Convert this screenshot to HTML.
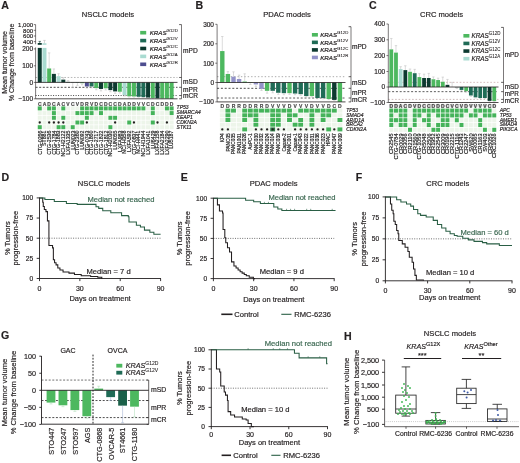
<!DOCTYPE html>
<html><head><meta charset="utf-8"><title>Figure</title>
<style>
html,body{margin:0;padding:0;background:#fff;}
body{width:520px;height:463px;overflow:hidden;}
svg{display:block;font-family:"Liberation Sans", Arial, sans-serif;filter:blur(0.3px);}
text{stroke-width:0.18px;}
</style></head><body>
<svg width="520" height="463" viewBox="0 0 520 463" fill="#231f20">
<rect x="0" y="0" width="520" height="463" fill="#fff"/>
<line x1="35.6" y1="77.48" x2="177.5" y2="77.48" stroke="#8a8a8a" stroke-width="0.6" stroke-dasharray="1.6,1.6"/>
<line x1="35.6" y1="87.32" x2="177.5" y2="87.32" stroke="#222" stroke-width="0.8" stroke-dasharray="2,1.6"/>
<line x1="35.6" y1="95.52" x2="177.5" y2="95.52" stroke="#333" stroke-width="0.9" stroke-dasharray="1,1.5"/>
<rect x="37.75" y="47.9" width="4" height="34.5" fill="#0d3a30"/>
<rect x="37.75" y="43" width="4" height="1.8" fill="#0d3a30"/>
<line x1="39.75" y1="43" x2="39.75" y2="41.4" stroke="#0d3a30" stroke-width="0.6"/>
<line x1="38.55" y1="41.4" x2="40.95" y2="41.4" stroke="#0d3a30" stroke-width="0.6"/>
<rect x="42.46" y="47.9" width="4" height="34.5" fill="#a9dbd1"/>
<rect x="42.46" y="43.3" width="4" height="1.5" fill="#a9dbd1"/>
<line x1="44.46" y1="43.3" x2="44.46" y2="40.4" stroke="#b8b8b8" stroke-width="0.6"/>
<line x1="43.26" y1="40.4" x2="45.66" y2="40.4" stroke="#b8b8b8" stroke-width="0.6"/>
<rect x="47.17" y="68.46" width="4" height="13.94" fill="#4db85f"/>
<line x1="49.17" y1="68.46" x2="49.17" y2="52.88" stroke="#b8b8b8" stroke-width="0.5"/>
<line x1="47.97" y1="52.88" x2="50.37" y2="52.88" stroke="#b8b8b8" stroke-width="0.5"/>
<rect x="51.88" y="73.87" width="4" height="8.53" fill="#0d3a30"/>
<line x1="53.88" y1="73.87" x2="53.88" y2="68.95" stroke="#b8b8b8" stroke-width="0.5"/>
<line x1="52.68" y1="68.95" x2="55.08" y2="68.95" stroke="#b8b8b8" stroke-width="0.5"/>
<rect x="56.59" y="76.17" width="4" height="6.23" fill="#a9dbd1"/>
<line x1="58.59" y1="76.17" x2="58.59" y2="73.71" stroke="#b8b8b8" stroke-width="0.5"/>
<line x1="57.39" y1="73.71" x2="59.79" y2="73.71" stroke="#b8b8b8" stroke-width="0.5"/>
<rect x="61.3" y="79.61" width="4" height="2.79" fill="#0d3a30"/>
<line x1="63.3" y1="79.61" x2="63.3" y2="77.64" stroke="#b8b8b8" stroke-width="0.5"/>
<line x1="62.1" y1="77.64" x2="64.5" y2="77.64" stroke="#b8b8b8" stroke-width="0.5"/>
<rect x="66.01" y="81.91" width="4" height="0.49" fill="#1f6b56"/>
<line x1="68.01" y1="81.91" x2="68.01" y2="80.6" stroke="#b8b8b8" stroke-width="0.5"/>
<line x1="66.81" y1="80.6" x2="69.21" y2="80.6" stroke="#b8b8b8" stroke-width="0.5"/>
<rect x="70.72" y="82.4" width="4" height="0.33" fill="#0d3a30"/>
<line x1="72.72" y1="82.73" x2="72.72" y2="87.65" stroke="#b8b8b8" stroke-width="0.5"/>
<line x1="71.52" y1="87.65" x2="73.92" y2="87.65" stroke="#b8b8b8" stroke-width="0.5"/>
<rect x="75.43" y="82.4" width="4" height="0.49" fill="#1f6b56"/>
<line x1="77.43" y1="82.89" x2="77.43" y2="85.35" stroke="#b8b8b8" stroke-width="0.5"/>
<line x1="76.23" y1="85.35" x2="78.63" y2="85.35" stroke="#b8b8b8" stroke-width="0.5"/>
<rect x="80.14" y="82.4" width="4" height="0.82" fill="#4db85f"/>
<line x1="82.14" y1="83.22" x2="82.14" y2="84.86" stroke="#b8b8b8" stroke-width="0.5"/>
<line x1="80.94" y1="84.86" x2="83.34" y2="84.86" stroke="#b8b8b8" stroke-width="0.5"/>
<rect x="84.85" y="82.4" width="4" height="4.1" fill="#4d4d8f"/>
<line x1="86.85" y1="86.5" x2="86.85" y2="88.14" stroke="#b8b8b8" stroke-width="0.5"/>
<line x1="85.65" y1="88.14" x2="88.05" y2="88.14" stroke="#b8b8b8" stroke-width="0.5"/>
<rect x="89.56" y="82.4" width="4" height="4.1" fill="#1f6b56"/>
<line x1="91.56" y1="86.5" x2="91.56" y2="87.81" stroke="#b8b8b8" stroke-width="0.5"/>
<line x1="90.36" y1="87.81" x2="92.76" y2="87.81" stroke="#b8b8b8" stroke-width="0.5"/>
<rect x="94.27" y="82.4" width="4" height="5.74" fill="#4db85f"/>
<line x1="96.27" y1="88.14" x2="96.27" y2="89.78" stroke="#b8b8b8" stroke-width="0.5"/>
<line x1="95.07" y1="89.78" x2="97.47" y2="89.78" stroke="#b8b8b8" stroke-width="0.5"/>
<rect x="98.98" y="82.4" width="4" height="6.56" fill="#0d3a30"/>
<line x1="100.98" y1="88.96" x2="100.98" y2="90.93" stroke="#b8b8b8" stroke-width="0.5"/>
<line x1="99.78" y1="90.93" x2="102.18" y2="90.93" stroke="#b8b8b8" stroke-width="0.5"/>
<rect x="103.69" y="82.4" width="4" height="5.9" fill="#4db85f"/>
<line x1="105.69" y1="88.3" x2="105.69" y2="89.94" stroke="#b8b8b8" stroke-width="0.5"/>
<line x1="104.49" y1="89.94" x2="106.89" y2="89.94" stroke="#b8b8b8" stroke-width="0.5"/>
<rect x="108.4" y="82.4" width="4" height="7.71" fill="#0d3a30"/>
<line x1="110.4" y1="90.11" x2="110.4" y2="91.75" stroke="#b8b8b8" stroke-width="0.5"/>
<line x1="109.2" y1="91.75" x2="111.6" y2="91.75" stroke="#b8b8b8" stroke-width="0.5"/>
<rect x="113.11" y="82.4" width="4" height="9.02" fill="#0d3a30"/>
<line x1="115.11" y1="91.42" x2="115.11" y2="93.39" stroke="#b8b8b8" stroke-width="0.5"/>
<line x1="113.91" y1="93.39" x2="116.31" y2="93.39" stroke="#b8b8b8" stroke-width="0.5"/>
<rect x="117.82" y="82.4" width="4" height="9.35" fill="#4db85f"/>
<line x1="119.82" y1="91.75" x2="119.82" y2="93.06" stroke="#b8b8b8" stroke-width="0.5"/>
<line x1="118.62" y1="93.06" x2="121.02" y2="93.06" stroke="#b8b8b8" stroke-width="0.5"/>
<rect x="122.53" y="82.4" width="4" height="12.79" fill="#a9dbd1"/>
<line x1="124.53" y1="95.19" x2="124.53" y2="96.01" stroke="#b8b8b8" stroke-width="0.5"/>
<line x1="123.33" y1="96.01" x2="125.73" y2="96.01" stroke="#b8b8b8" stroke-width="0.5"/>
<rect x="127.24" y="82.4" width="4" height="13.94" fill="#4db85f"/>
<line x1="129.24" y1="96.34" x2="129.24" y2="97" stroke="#b8b8b8" stroke-width="0.5"/>
<line x1="128.04" y1="97" x2="130.44" y2="97" stroke="#b8b8b8" stroke-width="0.5"/>
<rect x="131.95" y="82.4" width="4" height="14.1" fill="#4db85f"/>
<line x1="133.95" y1="96.5" x2="133.95" y2="97.16" stroke="#b8b8b8" stroke-width="0.5"/>
<line x1="132.75" y1="97.16" x2="135.15" y2="97.16" stroke="#b8b8b8" stroke-width="0.5"/>
<rect x="136.66" y="82.4" width="4" height="14.43" fill="#1f6b56"/>
<line x1="138.66" y1="96.83" x2="138.66" y2="97.32" stroke="#b8b8b8" stroke-width="0.5"/>
<line x1="137.46" y1="97.32" x2="139.86" y2="97.32" stroke="#b8b8b8" stroke-width="0.5"/>
<rect x="141.37" y="82.4" width="4" height="14.76" fill="#1f6b56"/>
<line x1="143.37" y1="97.16" x2="143.37" y2="97.65" stroke="#b8b8b8" stroke-width="0.5"/>
<line x1="142.17" y1="97.65" x2="144.57" y2="97.65" stroke="#b8b8b8" stroke-width="0.5"/>
<rect x="146.08" y="82.4" width="4" height="15.25" fill="#0d3a30"/>
<line x1="148.08" y1="97.65" x2="148.08" y2="97.98" stroke="#b8b8b8" stroke-width="0.5"/>
<line x1="146.88" y1="97.98" x2="149.28" y2="97.98" stroke="#b8b8b8" stroke-width="0.5"/>
<rect x="150.79" y="82.4" width="4" height="15.58" fill="#4db85f"/>
<line x1="152.79" y1="97.98" x2="152.79" y2="98.31" stroke="#b8b8b8" stroke-width="0.5"/>
<line x1="151.59" y1="98.31" x2="153.99" y2="98.31" stroke="#b8b8b8" stroke-width="0.5"/>
<rect x="155.5" y="82.4" width="4" height="15.91" fill="#0d3a30"/>
<line x1="157.5" y1="98.31" x2="157.5" y2="98.64" stroke="#b8b8b8" stroke-width="0.5"/>
<line x1="156.3" y1="98.64" x2="158.7" y2="98.64" stroke="#b8b8b8" stroke-width="0.5"/>
<rect x="160.21" y="82.4" width="4" height="16.07" fill="#4db85f"/>
<line x1="162.21" y1="98.47" x2="162.21" y2="98.64" stroke="#b8b8b8" stroke-width="0.5"/>
<line x1="161.01" y1="98.64" x2="163.41" y2="98.64" stroke="#b8b8b8" stroke-width="0.5"/>
<rect x="164.92" y="82.4" width="4" height="16.24" fill="#4db85f"/>
<rect x="169.63" y="82.4" width="4" height="16.4" fill="#4db85f"/>
<line x1="35.6" y1="82.4" x2="177.5" y2="82.4" stroke="#231f20" stroke-width="0.8"/>
<line x1="35.6" y1="98.8" x2="177.5" y2="98.8" stroke="#231f20" stroke-width="0.8"/>
<line x1="35.6" y1="24.6" x2="35.6" y2="44.2" stroke="#231f20" stroke-width="0.6"/>
<line x1="35.6" y1="47.4" x2="35.6" y2="98.8" stroke="#231f20" stroke-width="0.6"/>
<line x1="33.8" y1="24.6" x2="35.6" y2="24.6" stroke="#231f20" stroke-width="0.6"/>
<text x="33.1" y="26.88" font-size="6" text-anchor="end" stroke="#231f20">1,000</text>
<line x1="33.8" y1="30.3" x2="35.6" y2="30.3" stroke="#231f20" stroke-width="0.6"/>
<text x="33.1" y="32.58" font-size="6" text-anchor="end" stroke="#231f20">800</text>
<line x1="33.8" y1="36" x2="35.6" y2="36" stroke="#231f20" stroke-width="0.6"/>
<text x="33.1" y="38.28" font-size="6" text-anchor="end" stroke="#231f20">600</text>
<line x1="33.8" y1="41.6" x2="35.6" y2="41.6" stroke="#231f20" stroke-width="0.6"/>
<text x="33.1" y="43.88" font-size="6" text-anchor="end" stroke="#231f20">400</text>
<line x1="33.8" y1="48.9" x2="35.6" y2="48.9" stroke="#231f20" stroke-width="0.6"/>
<text x="33.1" y="51.37" font-size="6.5" text-anchor="end" stroke="#231f20">200</text>
<line x1="33.8" y1="65.8" x2="35.6" y2="65.8" stroke="#231f20" stroke-width="0.6"/>
<text x="33.1" y="68.27" font-size="6.5" text-anchor="end" stroke="#231f20">100</text>
<line x1="33.8" y1="82.4" x2="35.6" y2="82.4" stroke="#231f20" stroke-width="0.6"/>
<text x="33.1" y="84.87" font-size="6.5" text-anchor="end" stroke="#231f20">0</text>
<line x1="33.8" y1="98.8" x2="35.6" y2="98.8" stroke="#231f20" stroke-width="0.6"/>
<text x="33.1" y="101.27" font-size="6.5" text-anchor="end" stroke="#231f20">−100</text>
<line x1="181.5" y1="24.6" x2="181.5" y2="98.8" stroke="#231f20" stroke-width="0.6"/>
<line x1="179.1" y1="24.6" x2="181.5" y2="24.6" stroke="#231f20" stroke-width="0.7"/>
<line x1="179.1" y1="77.48" x2="181.5" y2="77.48" stroke="#231f20" stroke-width="0.7"/>
<line x1="179.1" y1="87.32" x2="181.5" y2="87.32" stroke="#231f20" stroke-width="0.7"/>
<line x1="179.1" y1="95.52" x2="181.5" y2="95.52" stroke="#231f20" stroke-width="0.7"/>
<line x1="179.1" y1="98.8" x2="181.5" y2="98.8" stroke="#231f20" stroke-width="0.7"/>
<text x="183.1" y="52.8" font-size="6.6" stroke="#231f20">mPD</text>
<text x="183.1" y="83.9" font-size="6.6" stroke="#231f20">mSD</text>
<text x="183.1" y="91.9" font-size="6.6" stroke="#231f20">mPR</text>
<text x="183.1" y="98.1" font-size="6.6" stroke="#231f20">mCR</text>
<text x="39.75" y="105.6" font-size="5" text-anchor="middle" font-weight="bold" stroke="#4a4a4a" stroke-width="0.06" fill="#4a4a4a">C</text>
<text x="44.46" y="105.6" font-size="5" text-anchor="middle" font-weight="bold" stroke="#4a4a4a" stroke-width="0.06" fill="#4a4a4a">A</text>
<text x="49.17" y="105.6" font-size="5" text-anchor="middle" font-weight="bold" stroke="#4a4a4a" stroke-width="0.06" fill="#4a4a4a">D</text>
<text x="53.88" y="105.6" font-size="5" text-anchor="middle" font-weight="bold" stroke="#4a4a4a" stroke-width="0.06" fill="#4a4a4a">C</text>
<text x="58.59" y="105.6" font-size="5" text-anchor="middle" font-weight="bold" stroke="#4a4a4a" stroke-width="0.06" fill="#4a4a4a">A</text>
<text x="63.3" y="105.6" font-size="5" text-anchor="middle" font-weight="bold" stroke="#4a4a4a" stroke-width="0.06" fill="#4a4a4a">C</text>
<text x="68.01" y="105.6" font-size="5" text-anchor="middle" font-weight="bold" stroke="#4a4a4a" stroke-width="0.06" fill="#4a4a4a">V</text>
<text x="72.72" y="105.6" font-size="5" text-anchor="middle" font-weight="bold" stroke="#4a4a4a" stroke-width="0.06" fill="#4a4a4a">C</text>
<text x="77.43" y="105.6" font-size="5" text-anchor="middle" font-weight="bold" stroke="#4a4a4a" stroke-width="0.06" fill="#4a4a4a">V</text>
<text x="82.14" y="105.6" font-size="5" text-anchor="middle" font-weight="bold" stroke="#4a4a4a" stroke-width="0.06" fill="#4a4a4a">D</text>
<text x="86.85" y="105.6" font-size="5" text-anchor="middle" font-weight="bold" stroke="#4a4a4a" stroke-width="0.06" fill="#4a4a4a">R</text>
<text x="91.56" y="105.6" font-size="5" text-anchor="middle" font-weight="bold" stroke="#4a4a4a" stroke-width="0.06" fill="#4a4a4a">V</text>
<text x="96.27" y="105.6" font-size="5" text-anchor="middle" font-weight="bold" stroke="#4a4a4a" stroke-width="0.06" fill="#4a4a4a">D</text>
<text x="100.98" y="105.6" font-size="5" text-anchor="middle" font-weight="bold" stroke="#4a4a4a" stroke-width="0.06" fill="#4a4a4a">C</text>
<text x="105.69" y="105.6" font-size="5" text-anchor="middle" font-weight="bold" stroke="#4a4a4a" stroke-width="0.06" fill="#4a4a4a">D</text>
<text x="110.4" y="105.6" font-size="5" text-anchor="middle" font-weight="bold" stroke="#4a4a4a" stroke-width="0.06" fill="#4a4a4a">C</text>
<text x="115.11" y="105.6" font-size="5" text-anchor="middle" font-weight="bold" stroke="#4a4a4a" stroke-width="0.06" fill="#4a4a4a">C</text>
<text x="119.82" y="105.6" font-size="5" text-anchor="middle" font-weight="bold" stroke="#4a4a4a" stroke-width="0.06" fill="#4a4a4a">D</text>
<text x="124.53" y="105.6" font-size="5" text-anchor="middle" font-weight="bold" stroke="#4a4a4a" stroke-width="0.06" fill="#4a4a4a">A</text>
<text x="129.24" y="105.6" font-size="5" text-anchor="middle" font-weight="bold" stroke="#4a4a4a" stroke-width="0.06" fill="#4a4a4a">D</text>
<text x="133.95" y="105.6" font-size="5" text-anchor="middle" font-weight="bold" stroke="#4a4a4a" stroke-width="0.06" fill="#4a4a4a">D</text>
<text x="138.66" y="105.6" font-size="5" text-anchor="middle" font-weight="bold" stroke="#4a4a4a" stroke-width="0.06" fill="#4a4a4a">V</text>
<text x="143.37" y="105.6" font-size="5" text-anchor="middle" font-weight="bold" stroke="#4a4a4a" stroke-width="0.06" fill="#4a4a4a">V</text>
<text x="148.08" y="105.6" font-size="5" text-anchor="middle" font-weight="bold" stroke="#4a4a4a" stroke-width="0.06" fill="#4a4a4a">C</text>
<text x="152.79" y="105.6" font-size="5" text-anchor="middle" font-weight="bold" stroke="#4a4a4a" stroke-width="0.06" fill="#4a4a4a">D</text>
<text x="157.5" y="105.6" font-size="5" text-anchor="middle" font-weight="bold" stroke="#4a4a4a" stroke-width="0.06" fill="#4a4a4a">C</text>
<text x="162.21" y="105.6" font-size="5" text-anchor="middle" font-weight="bold" stroke="#4a4a4a" stroke-width="0.06" fill="#4a4a4a">D</text>
<text x="166.92" y="105.6" font-size="5" text-anchor="middle" font-weight="bold" stroke="#4a4a4a" stroke-width="0.06" fill="#4a4a4a">D</text>
<text x="171.63" y="105.6" font-size="5" text-anchor="middle" font-weight="bold" stroke="#4a4a4a" stroke-width="0.06" fill="#4a4a4a">D</text>
<rect x="37.75" y="106.4" width="4.01" height="4" fill="#45b35a"/>
<rect x="42.46" y="106.4" width="4.01" height="4" fill="#edf5ea"/>
<rect x="47.17" y="106.4" width="4.01" height="4" fill="#45b35a"/>
<rect x="51.88" y="106.4" width="4.01" height="4" fill="#45b35a"/>
<rect x="56.59" y="106.4" width="4.01" height="4" fill="#edf5ea"/>
<rect x="61.3" y="106.4" width="4.01" height="4" fill="#45b35a"/>
<rect x="66" y="106.4" width="4.01" height="4" fill="#edf5ea"/>
<rect x="70.71" y="106.4" width="4.01" height="4" fill="#edf5ea"/>
<rect x="75.42" y="106.4" width="4.01" height="4" fill="#edf5ea"/>
<rect x="80.13" y="106.4" width="4.01" height="4" fill="#45b35a"/>
<rect x="84.84" y="106.4" width="4.01" height="4" fill="#45b35a"/>
<rect x="89.55" y="106.4" width="4.01" height="4" fill="#45b35a"/>
<rect x="94.26" y="106.4" width="4.01" height="4" fill="#45b35a"/>
<rect x="98.97" y="106.4" width="4.01" height="4" fill="#45b35a"/>
<rect x="103.68" y="106.4" width="4.01" height="4" fill="#45b35a"/>
<rect x="108.39" y="106.4" width="4.01" height="4" fill="#45b35a"/>
<rect x="113.1" y="106.4" width="4.01" height="4" fill="#45b35a"/>
<rect x="117.81" y="106.4" width="4.01" height="4" fill="#45b35a"/>
<rect x="122.52" y="106.4" width="4.01" height="4" fill="#45b35a"/>
<rect x="127.23" y="106.4" width="4.01" height="4" fill="#45b35a"/>
<rect x="131.94" y="106.4" width="4.01" height="4" fill="#45b35a"/>
<rect x="136.66" y="106.4" width="4.01" height="4" fill="#45b35a"/>
<rect x="141.37" y="106.4" width="4.01" height="4" fill="#45b35a"/>
<rect x="146.07" y="106.4" width="4.01" height="4" fill="#edf5ea"/>
<rect x="150.78" y="106.4" width="4.01" height="4" fill="#45b35a"/>
<rect x="155.5" y="106.4" width="4.01" height="4" fill="#edf5ea"/>
<rect x="160.2" y="106.4" width="4.01" height="4" fill="#edf5ea"/>
<rect x="164.92" y="106.4" width="4.01" height="4" fill="#45b35a"/>
<rect x="169.62" y="106.4" width="4.01" height="4" fill="#45b35a"/>
<text x="176.6" y="109.1" font-size="5" stroke="#231f20" stroke-width="0.06" font-style="italic">TP53</text>
<rect x="37.75" y="111.1" width="4.01" height="4" fill="#edf5ea"/>
<rect x="42.46" y="111.1" width="4.01" height="4" fill="#edf5ea"/>
<rect x="47.17" y="111.1" width="4.01" height="4" fill="#edf5ea"/>
<rect x="51.88" y="111.1" width="4.01" height="4" fill="#45b35a"/>
<rect x="56.59" y="111.1" width="4.01" height="4" fill="#edf5ea"/>
<rect x="61.3" y="111.1" width="4.01" height="4" fill="#edf5ea"/>
<rect x="66" y="111.1" width="4.01" height="4" fill="#edf5ea"/>
<rect x="70.71" y="111.1" width="4.01" height="4" fill="#edf5ea"/>
<rect x="75.42" y="111.1" width="4.01" height="4" fill="#45b35a"/>
<rect x="80.13" y="111.1" width="4.01" height="4" fill="#45b35a"/>
<rect x="84.84" y="111.1" width="4.01" height="4" fill="#45b35a"/>
<rect x="89.55" y="111.1" width="4.01" height="4" fill="#45b35a"/>
<rect x="94.26" y="111.1" width="4.01" height="4" fill="#edf5ea"/>
<rect x="98.97" y="111.1" width="4.01" height="4" fill="#45b35a"/>
<rect x="103.68" y="111.1" width="4.01" height="4" fill="#edf5ea"/>
<rect x="108.39" y="111.1" width="4.01" height="4" fill="#edf5ea"/>
<rect x="113.1" y="111.1" width="4.01" height="4" fill="#edf5ea"/>
<rect x="117.81" y="111.1" width="4.01" height="4" fill="#edf5ea"/>
<rect x="122.52" y="111.1" width="4.01" height="4" fill="#edf5ea"/>
<rect x="127.23" y="111.1" width="4.01" height="4" fill="#edf5ea"/>
<rect x="131.94" y="111.1" width="4.01" height="4" fill="#edf5ea"/>
<rect x="136.66" y="111.1" width="4.01" height="4" fill="#edf5ea"/>
<rect x="141.37" y="111.1" width="4.01" height="4" fill="#edf5ea"/>
<rect x="146.07" y="111.1" width="4.01" height="4" fill="#edf5ea"/>
<rect x="150.78" y="111.1" width="4.01" height="4" fill="#45b35a"/>
<rect x="155.5" y="111.1" width="4.01" height="4" fill="#edf5ea"/>
<rect x="160.2" y="111.1" width="4.01" height="4" fill="#edf5ea"/>
<rect x="164.92" y="111.1" width="4.01" height="4" fill="#edf5ea"/>
<rect x="169.62" y="111.1" width="4.01" height="4" fill="#45b35a"/>
<text x="176.6" y="114.1" font-size="5" stroke="#231f20" stroke-width="0.06" font-style="italic">SMARCA4</text>
<rect x="37.75" y="115.8" width="4.01" height="4" fill="#edf5ea"/>
<rect x="42.46" y="115.8" width="4.01" height="4" fill="#edf5ea"/>
<rect x="47.17" y="115.8" width="4.01" height="4" fill="#edf5ea"/>
<rect x="51.88" y="115.8" width="4.01" height="4" fill="#45b35a"/>
<rect x="56.59" y="115.8" width="4.01" height="4" fill="#edf5ea"/>
<rect x="61.3" y="115.8" width="4.01" height="4" fill="#45b35a"/>
<rect x="66" y="115.8" width="4.01" height="4" fill="#edf5ea"/>
<rect x="70.71" y="115.8" width="4.01" height="4" fill="#edf5ea"/>
<rect x="75.42" y="115.8" width="4.01" height="4" fill="#edf5ea"/>
<rect x="80.13" y="115.8" width="4.01" height="4" fill="#edf5ea"/>
<rect x="84.84" y="115.8" width="4.01" height="4" fill="#45b35a"/>
<rect x="89.55" y="115.8" width="4.01" height="4" fill="#edf5ea"/>
<rect x="94.26" y="115.8" width="4.01" height="4" fill="#edf5ea"/>
<rect x="98.97" y="115.8" width="4.01" height="4" fill="#edf5ea"/>
<rect x="103.68" y="115.8" width="4.01" height="4" fill="#edf5ea"/>
<rect x="108.39" y="115.8" width="4.01" height="4" fill="#45b35a"/>
<rect x="113.1" y="115.8" width="4.01" height="4" fill="#45b35a"/>
<rect x="117.81" y="115.8" width="4.01" height="4" fill="#edf5ea"/>
<rect x="122.52" y="115.8" width="4.01" height="4" fill="#edf5ea"/>
<rect x="127.23" y="115.8" width="4.01" height="4" fill="#edf5ea"/>
<rect x="131.94" y="115.8" width="4.01" height="4" fill="#edf5ea"/>
<rect x="136.66" y="115.8" width="4.01" height="4" fill="#edf5ea"/>
<rect x="141.37" y="115.8" width="4.01" height="4" fill="#edf5ea"/>
<rect x="146.07" y="115.8" width="4.01" height="4" fill="#edf5ea"/>
<rect x="150.78" y="115.8" width="4.01" height="4" fill="#edf5ea"/>
<rect x="155.5" y="115.8" width="4.01" height="4" fill="#edf5ea"/>
<rect x="160.2" y="115.8" width="4.01" height="4" fill="#edf5ea"/>
<rect x="164.92" y="115.8" width="4.01" height="4" fill="#edf5ea"/>
<rect x="169.62" y="115.8" width="4.01" height="4" fill="#edf5ea"/>
<text x="176.6" y="119.1" font-size="5" stroke="#231f20" stroke-width="0.06" font-style="italic">KEAP1</text>
<rect x="37.75" y="120.5" width="4.01" height="4" fill="#edf5ea"/>
<circle cx="39.75" cy="122.5" r="1.15" fill="#231f20"/>
<rect x="42.46" y="120.5" width="4.01" height="4" fill="#edf5ea"/>
<rect x="47.17" y="120.5" width="4.01" height="4" fill="#edf5ea"/>
<circle cx="49.17" cy="122.5" r="1.15" fill="#231f20"/>
<rect x="51.88" y="120.5" width="4.01" height="4" fill="#edf5ea"/>
<circle cx="53.88" cy="122.5" r="1.15" fill="#231f20"/>
<rect x="56.59" y="120.5" width="4.01" height="4" fill="#edf5ea"/>
<circle cx="58.59" cy="122.5" r="1.15" fill="#231f20"/>
<rect x="61.3" y="120.5" width="4.01" height="4" fill="#edf5ea"/>
<circle cx="63.3" cy="122.5" r="1.15" fill="#231f20"/>
<rect x="66" y="120.5" width="4.01" height="4" fill="#edf5ea"/>
<rect x="70.71" y="120.5" width="4.01" height="4" fill="#edf5ea"/>
<rect x="75.42" y="120.5" width="4.01" height="4" fill="#45b35a"/>
<rect x="80.13" y="120.5" width="4.01" height="4" fill="#45b35a"/>
<rect x="84.84" y="120.5" width="4.01" height="4" fill="#edf5ea"/>
<circle cx="86.85" cy="122.5" r="1.15" fill="#231f20"/>
<rect x="89.55" y="120.5" width="4.01" height="4" fill="#edf5ea"/>
<rect x="94.26" y="120.5" width="4.01" height="4" fill="#edf5ea"/>
<rect x="98.97" y="120.5" width="4.01" height="4" fill="#edf5ea"/>
<rect x="103.68" y="120.5" width="4.01" height="4" fill="#edf5ea"/>
<rect x="108.39" y="120.5" width="4.01" height="4" fill="#edf5ea"/>
<rect x="113.1" y="120.5" width="4.01" height="4" fill="#edf5ea"/>
<circle cx="115.11" cy="122.5" r="1.15" fill="#231f20"/>
<rect x="117.81" y="120.5" width="4.01" height="4" fill="#edf5ea"/>
<rect x="122.52" y="120.5" width="4.01" height="4" fill="#edf5ea"/>
<rect x="127.23" y="120.5" width="4.01" height="4" fill="#45b35a"/>
<rect x="131.94" y="120.5" width="4.01" height="4" fill="#edf5ea"/>
<circle cx="133.95" cy="122.5" r="1.15" fill="#231f20"/>
<rect x="136.66" y="120.5" width="4.01" height="4" fill="#edf5ea"/>
<rect x="141.37" y="120.5" width="4.01" height="4" fill="#edf5ea"/>
<rect x="146.07" y="120.5" width="4.01" height="4" fill="#edf5ea"/>
<rect x="150.78" y="120.5" width="4.01" height="4" fill="#45b35a"/>
<rect x="155.5" y="120.5" width="4.01" height="4" fill="#edf5ea"/>
<circle cx="157.5" cy="122.5" r="1.15" fill="#231f20"/>
<rect x="160.2" y="120.5" width="4.01" height="4" fill="#edf5ea"/>
<rect x="164.92" y="120.5" width="4.01" height="4" fill="#edf5ea"/>
<circle cx="166.92" cy="122.5" r="1.15" fill="#231f20"/>
<rect x="169.62" y="120.5" width="4.01" height="4" fill="#edf5ea"/>
<text x="176.6" y="124.1" font-size="5" stroke="#231f20" stroke-width="0.06" font-style="italic">CDKN2A</text>
<rect x="37.75" y="125.2" width="4.01" height="4" fill="#45b35a"/>
<rect x="42.46" y="125.2" width="4.01" height="4" fill="#edf5ea"/>
<rect x="47.17" y="125.2" width="4.01" height="4" fill="#edf5ea"/>
<rect x="51.88" y="125.2" width="4.01" height="4" fill="#edf5ea"/>
<rect x="56.59" y="125.2" width="4.01" height="4" fill="#45b35a"/>
<rect x="61.3" y="125.2" width="4.01" height="4" fill="#45b35a"/>
<rect x="66" y="125.2" width="4.01" height="4" fill="#edf5ea"/>
<rect x="70.71" y="125.2" width="4.01" height="4" fill="#45b35a"/>
<rect x="75.42" y="125.2" width="4.01" height="4" fill="#edf5ea"/>
<rect x="80.13" y="125.2" width="4.01" height="4" fill="#edf5ea"/>
<rect x="84.84" y="125.2" width="4.01" height="4" fill="#edf5ea"/>
<rect x="89.55" y="125.2" width="4.01" height="4" fill="#edf5ea"/>
<rect x="94.26" y="125.2" width="4.01" height="4" fill="#edf5ea"/>
<rect x="98.97" y="125.2" width="4.01" height="4" fill="#edf5ea"/>
<rect x="103.68" y="125.2" width="4.01" height="4" fill="#edf5ea"/>
<rect x="108.39" y="125.2" width="4.01" height="4" fill="#45b35a"/>
<rect x="113.1" y="125.2" width="4.01" height="4" fill="#edf5ea"/>
<rect x="117.81" y="125.2" width="4.01" height="4" fill="#edf5ea"/>
<rect x="122.52" y="125.2" width="4.01" height="4" fill="#edf5ea"/>
<rect x="127.23" y="125.2" width="4.01" height="4" fill="#edf5ea"/>
<rect x="131.94" y="125.2" width="4.01" height="4" fill="#edf5ea"/>
<rect x="136.66" y="125.2" width="4.01" height="4" fill="#edf5ea"/>
<rect x="141.37" y="125.2" width="4.01" height="4" fill="#edf5ea"/>
<rect x="146.07" y="125.2" width="4.01" height="4" fill="#edf5ea"/>
<rect x="150.78" y="125.2" width="4.01" height="4" fill="#edf5ea"/>
<rect x="155.5" y="125.2" width="4.01" height="4" fill="#edf5ea"/>
<rect x="160.2" y="125.2" width="4.01" height="4" fill="#edf5ea"/>
<rect x="164.92" y="125.2" width="4.01" height="4" fill="#edf5ea"/>
<rect x="169.62" y="125.2" width="4.01" height="4" fill="#edf5ea"/>
<text x="176.6" y="129.1" font-size="5" stroke="#231f20" stroke-width="0.06" font-style="italic">STK11</text>
<text x="41.57" y="130.6" font-size="5.2" text-anchor="end" stroke="#222" stroke-width="0.06" fill="#222" transform="rotate(-90 41.57 130.6)">CTG-0266</text>
<text x="46.28" y="130.6" font-size="5.2" text-anchor="end" stroke="#222" stroke-width="0.06" fill="#222" transform="rotate(-90 46.28 130.6)">ST881</text>
<text x="50.99" y="130.6" font-size="5.2" text-anchor="end" stroke="#222" stroke-width="0.06" fill="#222" transform="rotate(-90 50.99 130.6)">CTG-2536</text>
<text x="55.7" y="130.6" font-size="5.2" text-anchor="end" stroke="#222" stroke-width="0.06" fill="#222" transform="rotate(-90 55.7 130.6)">CTG-1784</text>
<text x="60.41" y="130.6" font-size="5.2" text-anchor="end" stroke="#222" stroke-width="0.06" fill="#222" transform="rotate(-90 60.41 130.6)">CTG-1883</text>
<text x="65.12" y="130.6" font-size="5.2" text-anchor="end" stroke="#222" stroke-width="0.06" fill="#222" transform="rotate(-90 65.12 130.6)">NCI-H2122</text>
<text x="69.83" y="130.6" font-size="5.2" text-anchor="end" stroke="#222" stroke-width="0.06" fill="#222" transform="rotate(-90 69.83 130.6)">LXFA1335</text>
<text x="74.54" y="130.6" font-size="5.2" text-anchor="end" stroke="#222" stroke-width="0.06" fill="#222" transform="rotate(-90 74.54 130.6)">LUN023</text>
<text x="79.25" y="130.6" font-size="5.2" text-anchor="end" stroke="#222" stroke-width="0.06" fill="#222" transform="rotate(-90 79.25 130.6)">CTG-2360</text>
<text x="83.96" y="130.6" font-size="5.2" text-anchor="end" stroke="#222" stroke-width="0.06" fill="#222" transform="rotate(-90 83.96 130.6)">LUN092</text>
<text x="88.67" y="130.6" font-size="5.2" text-anchor="end" stroke="#222" stroke-width="0.06" fill="#222" transform="rotate(-90 88.67 130.6)">CTG-0743</text>
<text x="93.38" y="130.6" font-size="5.2" text-anchor="end" stroke="#222" stroke-width="0.06" fill="#222" transform="rotate(-90 93.38 130.6)">CTG-1860</text>
<text x="98.09" y="130.6" font-size="5.2" text-anchor="end" stroke="#222" stroke-width="0.06" fill="#222" transform="rotate(-90 98.09 130.6)">CTG-2717</text>
<text x="102.8" y="130.6" font-size="5.2" text-anchor="end" stroke="#222" stroke-width="0.06" fill="#222" transform="rotate(-90 102.8 130.6)">CTG-1822</text>
<text x="107.51" y="130.6" font-size="5.2" text-anchor="end" stroke="#222" stroke-width="0.06" fill="#222" transform="rotate(-90 107.51 130.6)">CTG-1812</text>
<text x="112.22" y="130.6" font-size="5.2" text-anchor="end" stroke="#222" stroke-width="0.06" fill="#222" transform="rotate(-90 112.22 130.6)">NCI-H2030</text>
<text x="116.93" y="130.6" font-size="5.2" text-anchor="end" stroke="#222" stroke-width="0.06" fill="#222" transform="rotate(-90 116.93 130.6)">LUN055</text>
<text x="121.64" y="130.6" font-size="5.2" text-anchor="end" stroke="#222" stroke-width="0.06" fill="#222" transform="rotate(-90 121.64 130.6)">LXFA983</text>
<text x="126.35" y="130.6" font-size="5.2" text-anchor="end" stroke="#222" stroke-width="0.06" fill="#222" transform="rotate(-90 126.35 130.6)">NCI-H358</text>
<text x="131.06" y="130.6" font-size="5.2" text-anchor="end" stroke="#222" stroke-width="0.06" fill="#222" transform="rotate(-90 131.06 130.6)">LXFA592</text>
<text x="135.77" y="130.6" font-size="5.2" text-anchor="end" stroke="#222" stroke-width="0.06" fill="#222" transform="rotate(-90 135.77 130.6)">CTG-0837</text>
<text x="140.48" y="130.6" font-size="5.2" text-anchor="end" stroke="#222" stroke-width="0.06" fill="#222" transform="rotate(-90 140.48 130.6)">NCI-H441</text>
<text x="145.19" y="130.6" font-size="5.2" text-anchor="end" stroke="#222" stroke-width="0.06" fill="#222" transform="rotate(-90 145.19 130.6)">NCI-H1944</text>
<text x="149.9" y="130.6" font-size="5.2" text-anchor="end" stroke="#222" stroke-width="0.06" fill="#222" transform="rotate(-90 149.9 130.6)">LXFA1041</text>
<text x="154.61" y="130.6" font-size="5.2" text-anchor="end" stroke="#222" stroke-width="0.06" fill="#222" transform="rotate(-90 154.61 130.6)">LU6429</text>
<text x="159.32" y="130.6" font-size="5.2" text-anchor="end" stroke="#222" stroke-width="0.06" fill="#222" transform="rotate(-90 159.32 130.6)">LXFA2158</text>
<text x="164.03" y="130.6" font-size="5.2" text-anchor="end" stroke="#222" stroke-width="0.06" fill="#222" transform="rotate(-90 164.03 130.6)">LXFA2184</text>
<text x="168.74" y="130.6" font-size="5.2" text-anchor="end" stroke="#222" stroke-width="0.06" fill="#222" transform="rotate(-90 168.74 130.6)">LXFA2290</text>
<text x="173.45" y="130.6" font-size="5.2" text-anchor="end" stroke="#222" stroke-width="0.06" fill="#222" transform="rotate(-90 173.45 130.6)">LU5187</text>
<line x1="217.1" y1="76.68" x2="345.5" y2="76.68" stroke="#8a8a8a" stroke-width="0.7" stroke-dasharray="1.4,2"/>
<line x1="217.1" y1="88.32" x2="345.5" y2="88.32" stroke="#222" stroke-width="0.8" stroke-dasharray="2,1.8"/>
<line x1="217.1" y1="98.02" x2="345.5" y2="98.02" stroke="#333" stroke-width="0.8" stroke-dasharray="2,1.8"/>
<rect x="220.1" y="51.07" width="4.4" height="31.43" fill="#4db85f"/>
<line x1="222.3" y1="51.07" x2="222.3" y2="36.52" stroke="#b8b8b8" stroke-width="0.5"/>
<line x1="221.1" y1="36.52" x2="223.5" y2="36.52" stroke="#b8b8b8" stroke-width="0.5"/>
<rect x="225.7" y="73.96" width="4.4" height="8.54" fill="#4db85f"/>
<line x1="227.9" y1="73.96" x2="227.9" y2="71.64" stroke="#b8b8b8" stroke-width="0.5"/>
<line x1="226.7" y1="71.64" x2="229.1" y2="71.64" stroke="#b8b8b8" stroke-width="0.5"/>
<rect x="231.3" y="76.68" width="4.4" height="5.82" fill="#9393c9"/>
<line x1="233.5" y1="76.68" x2="233.5" y2="71.83" stroke="#b8b8b8" stroke-width="0.5"/>
<line x1="232.3" y1="71.83" x2="234.7" y2="71.83" stroke="#b8b8b8" stroke-width="0.5"/>
<rect x="236.9" y="79.01" width="4.4" height="3.49" fill="#9393c9"/>
<line x1="239.1" y1="79.01" x2="239.1" y2="75.13" stroke="#b8b8b8" stroke-width="0.5"/>
<line x1="237.9" y1="75.13" x2="240.3" y2="75.13" stroke="#b8b8b8" stroke-width="0.5"/>
<rect x="242.5" y="81.53" width="4.4" height="0.97" fill="#4db85f"/>
<line x1="244.7" y1="81.53" x2="244.7" y2="73.77" stroke="#b8b8b8" stroke-width="0.5"/>
<line x1="243.5" y1="73.77" x2="245.9" y2="73.77" stroke="#b8b8b8" stroke-width="0.5"/>
<rect x="248.1" y="82.5" width="4.4" height="0.39" fill="#4db85f"/>
<line x1="250.3" y1="82.89" x2="250.3" y2="84.44" stroke="#b8b8b8" stroke-width="0.5"/>
<line x1="249.1" y1="84.44" x2="251.5" y2="84.44" stroke="#b8b8b8" stroke-width="0.5"/>
<rect x="253.7" y="82.5" width="4.4" height="1.94" fill="#9393c9"/>
<line x1="255.9" y1="84.44" x2="255.9" y2="86.38" stroke="#b8b8b8" stroke-width="0.5"/>
<line x1="254.7" y1="86.38" x2="257.1" y2="86.38" stroke="#b8b8b8" stroke-width="0.5"/>
<rect x="259.3" y="82.5" width="4.4" height="6.4" fill="#9393c9"/>
<line x1="261.5" y1="88.9" x2="261.5" y2="90.45" stroke="#b8b8b8" stroke-width="0.5"/>
<line x1="260.3" y1="90.45" x2="262.7" y2="90.45" stroke="#b8b8b8" stroke-width="0.5"/>
<rect x="264.9" y="82.5" width="4.4" height="8.34" fill="#4db85f"/>
<line x1="267.1" y1="90.84" x2="267.1" y2="93.17" stroke="#b8b8b8" stroke-width="0.5"/>
<line x1="265.9" y1="93.17" x2="268.3" y2="93.17" stroke="#b8b8b8" stroke-width="0.5"/>
<rect x="270.5" y="82.5" width="4.4" height="8.34" fill="#1f6b56"/>
<line x1="272.7" y1="90.84" x2="272.7" y2="92.78" stroke="#b8b8b8" stroke-width="0.5"/>
<line x1="271.5" y1="92.78" x2="273.9" y2="92.78" stroke="#b8b8b8" stroke-width="0.5"/>
<rect x="276.1" y="82.5" width="4.4" height="10.28" fill="#1f6b56"/>
<line x1="278.3" y1="92.78" x2="278.3" y2="94.33" stroke="#b8b8b8" stroke-width="0.5"/>
<line x1="277.1" y1="94.33" x2="279.5" y2="94.33" stroke="#b8b8b8" stroke-width="0.5"/>
<rect x="281.7" y="82.5" width="4.4" height="10.67" fill="#1f6b56"/>
<line x1="283.9" y1="93.17" x2="283.9" y2="94.72" stroke="#b8b8b8" stroke-width="0.5"/>
<line x1="282.7" y1="94.72" x2="285.1" y2="94.72" stroke="#b8b8b8" stroke-width="0.5"/>
<rect x="287.3" y="82.5" width="4.4" height="10.67" fill="#4db85f"/>
<line x1="289.5" y1="93.17" x2="289.5" y2="94.33" stroke="#b8b8b8" stroke-width="0.5"/>
<line x1="288.3" y1="94.33" x2="290.7" y2="94.33" stroke="#b8b8b8" stroke-width="0.5"/>
<rect x="292.9" y="82.5" width="4.4" height="11.06" fill="#1f6b56"/>
<line x1="295.1" y1="93.56" x2="295.1" y2="94.72" stroke="#b8b8b8" stroke-width="0.5"/>
<line x1="293.9" y1="94.72" x2="296.3" y2="94.72" stroke="#b8b8b8" stroke-width="0.5"/>
<rect x="298.5" y="82.5" width="4.4" height="11.64" fill="#1f6b56"/>
<line x1="300.7" y1="94.14" x2="300.7" y2="95.3" stroke="#b8b8b8" stroke-width="0.5"/>
<line x1="299.5" y1="95.3" x2="301.9" y2="95.3" stroke="#b8b8b8" stroke-width="0.5"/>
<rect x="304.1" y="82.5" width="4.4" height="13.58" fill="#1f6b56"/>
<line x1="306.3" y1="96.08" x2="306.3" y2="97.05" stroke="#b8b8b8" stroke-width="0.5"/>
<line x1="305.1" y1="97.05" x2="307.5" y2="97.05" stroke="#b8b8b8" stroke-width="0.5"/>
<rect x="309.7" y="82.5" width="4.4" height="13.58" fill="#4db85f"/>
<line x1="311.9" y1="96.08" x2="311.9" y2="97.05" stroke="#b8b8b8" stroke-width="0.5"/>
<line x1="310.7" y1="97.05" x2="313.1" y2="97.05" stroke="#b8b8b8" stroke-width="0.5"/>
<rect x="315.3" y="82.5" width="4.4" height="15.52" fill="#1f6b56"/>
<line x1="317.5" y1="98.02" x2="317.5" y2="98.8" stroke="#b8b8b8" stroke-width="0.5"/>
<line x1="316.3" y1="98.8" x2="318.7" y2="98.8" stroke="#b8b8b8" stroke-width="0.5"/>
<rect x="320.9" y="82.5" width="4.4" height="15.52" fill="#1f6b56"/>
<line x1="323.1" y1="98.02" x2="323.1" y2="98.8" stroke="#b8b8b8" stroke-width="0.5"/>
<line x1="321.9" y1="98.8" x2="324.3" y2="98.8" stroke="#b8b8b8" stroke-width="0.5"/>
<rect x="326.5" y="82.5" width="4.4" height="16.49" fill="#4db85f"/>
<line x1="328.7" y1="98.99" x2="328.7" y2="99.57" stroke="#b8b8b8" stroke-width="0.5"/>
<line x1="327.5" y1="99.57" x2="329.9" y2="99.57" stroke="#b8b8b8" stroke-width="0.5"/>
<rect x="332.1" y="82.5" width="4.4" height="17.46" fill="#0d3a30"/>
<line x1="334.3" y1="99.96" x2="334.3" y2="100.35" stroke="#b8b8b8" stroke-width="0.5"/>
<line x1="333.1" y1="100.35" x2="335.5" y2="100.35" stroke="#b8b8b8" stroke-width="0.5"/>
<rect x="337.7" y="82.5" width="4.4" height="19.4" fill="#4db85f"/>
<line x1="217.1" y1="82.5" x2="345.5" y2="82.5" stroke="#231f20" stroke-width="0.8"/>
<line x1="217.1" y1="101.9" x2="345.5" y2="101.9" stroke="#231f20" stroke-width="0.8"/>
<line x1="217.1" y1="24.3" x2="217.1" y2="101.9" stroke="#231f20" stroke-width="0.6"/>
<line x1="215.3" y1="24.3" x2="217.1" y2="24.3" stroke="#231f20" stroke-width="0.6"/>
<text x="214" y="26.77" font-size="6.5" text-anchor="end" stroke="#231f20">300</text>
<line x1="215.3" y1="43.8" x2="217.1" y2="43.8" stroke="#231f20" stroke-width="0.6"/>
<text x="214" y="46.27" font-size="6.5" text-anchor="end" stroke="#231f20">200</text>
<line x1="215.3" y1="63.2" x2="217.1" y2="63.2" stroke="#231f20" stroke-width="0.6"/>
<text x="214" y="65.67" font-size="6.5" text-anchor="end" stroke="#231f20">100</text>
<line x1="215.3" y1="82.5" x2="217.1" y2="82.5" stroke="#231f20" stroke-width="0.6"/>
<text x="214" y="84.97" font-size="6.5" text-anchor="end" stroke="#231f20">0</text>
<line x1="215.3" y1="101.9" x2="217.1" y2="101.9" stroke="#231f20" stroke-width="0.6"/>
<text x="214" y="104.37" font-size="6.5" text-anchor="end" stroke="#231f20">−100</text>
<line x1="351" y1="26.7" x2="351" y2="101.9" stroke="#231f20" stroke-width="0.6"/>
<line x1="348.6" y1="26.7" x2="351" y2="26.7" stroke="#231f20" stroke-width="0.7"/>
<line x1="348.6" y1="76.68" x2="351" y2="76.68" stroke="#231f20" stroke-width="0.7"/>
<line x1="348.6" y1="88.32" x2="351" y2="88.32" stroke="#231f20" stroke-width="0.7"/>
<line x1="348.6" y1="98.02" x2="351" y2="98.02" stroke="#231f20" stroke-width="0.7"/>
<line x1="348.6" y1="101.9" x2="351" y2="101.9" stroke="#231f20" stroke-width="0.7"/>
<text x="351.9" y="48.9" font-size="6.6" stroke="#231f20">mPD</text>
<text x="351.9" y="85.1" font-size="6.6" stroke="#231f20">mSD</text>
<text x="351.9" y="95.1" font-size="6.6" stroke="#231f20">mPR</text>
<text x="351.9" y="101.8" font-size="6.6" stroke="#231f20">mCR</text>
<text x="222.3" y="108.2" font-size="5" text-anchor="middle" font-weight="bold" stroke="#4a4a4a" stroke-width="0.06" fill="#4a4a4a">D</text>
<text x="227.9" y="108.2" font-size="5" text-anchor="middle" font-weight="bold" stroke="#4a4a4a" stroke-width="0.06" fill="#4a4a4a">D</text>
<text x="233.5" y="108.2" font-size="5" text-anchor="middle" font-weight="bold" stroke="#4a4a4a" stroke-width="0.06" fill="#4a4a4a">R</text>
<text x="239.1" y="108.2" font-size="5" text-anchor="middle" font-weight="bold" stroke="#4a4a4a" stroke-width="0.06" fill="#4a4a4a">R</text>
<text x="244.7" y="108.2" font-size="5" text-anchor="middle" font-weight="bold" stroke="#4a4a4a" stroke-width="0.06" fill="#4a4a4a">D</text>
<text x="250.3" y="108.2" font-size="5" text-anchor="middle" font-weight="bold" stroke="#4a4a4a" stroke-width="0.06" fill="#4a4a4a">D</text>
<text x="255.9" y="108.2" font-size="5" text-anchor="middle" font-weight="bold" stroke="#4a4a4a" stroke-width="0.06" fill="#4a4a4a">R</text>
<text x="261.5" y="108.2" font-size="5" text-anchor="middle" font-weight="bold" stroke="#4a4a4a" stroke-width="0.06" fill="#4a4a4a">R</text>
<text x="267.1" y="108.2" font-size="5" text-anchor="middle" font-weight="bold" stroke="#4a4a4a" stroke-width="0.06" fill="#4a4a4a">D</text>
<text x="272.7" y="108.2" font-size="5" text-anchor="middle" font-weight="bold" stroke="#4a4a4a" stroke-width="0.06" fill="#4a4a4a">V</text>
<text x="278.3" y="108.2" font-size="5" text-anchor="middle" font-weight="bold" stroke="#4a4a4a" stroke-width="0.06" fill="#4a4a4a">V</text>
<text x="283.9" y="108.2" font-size="5" text-anchor="middle" font-weight="bold" stroke="#4a4a4a" stroke-width="0.06" fill="#4a4a4a">V</text>
<text x="289.5" y="108.2" font-size="5" text-anchor="middle" font-weight="bold" stroke="#4a4a4a" stroke-width="0.06" fill="#4a4a4a">D</text>
<text x="295.1" y="108.2" font-size="5" text-anchor="middle" font-weight="bold" stroke="#4a4a4a" stroke-width="0.06" fill="#4a4a4a">V</text>
<text x="300.7" y="108.2" font-size="5" text-anchor="middle" font-weight="bold" stroke="#4a4a4a" stroke-width="0.06" fill="#4a4a4a">V</text>
<text x="306.3" y="108.2" font-size="5" text-anchor="middle" font-weight="bold" stroke="#4a4a4a" stroke-width="0.06" fill="#4a4a4a">V</text>
<text x="311.9" y="108.2" font-size="5" text-anchor="middle" font-weight="bold" stroke="#4a4a4a" stroke-width="0.06" fill="#4a4a4a">D</text>
<text x="317.5" y="108.2" font-size="5" text-anchor="middle" font-weight="bold" stroke="#4a4a4a" stroke-width="0.06" fill="#4a4a4a">V</text>
<text x="323.1" y="108.2" font-size="5" text-anchor="middle" font-weight="bold" stroke="#4a4a4a" stroke-width="0.06" fill="#4a4a4a">V</text>
<text x="328.7" y="108.2" font-size="5" text-anchor="middle" font-weight="bold" stroke="#4a4a4a" stroke-width="0.06" fill="#4a4a4a">D</text>
<text x="334.3" y="108.2" font-size="5" text-anchor="middle" font-weight="bold" stroke="#4a4a4a" stroke-width="0.06" fill="#4a4a4a">C</text>
<text x="339.9" y="108.2" font-size="5" text-anchor="middle" font-weight="bold" stroke="#4a4a4a" stroke-width="0.06" fill="#4a4a4a">D</text>
<rect x="219.85" y="108.6" width="4.9" height="4" fill="#edf5ea"/>
<rect x="225.45" y="108.6" width="4.9" height="4" fill="#45b35a"/>
<rect x="231.05" y="108.6" width="4.9" height="4" fill="#45b35a"/>
<rect x="236.65" y="108.6" width="4.9" height="4" fill="#edf5ea"/>
<rect x="242.25" y="108.6" width="4.9" height="4" fill="#45b35a"/>
<rect x="247.85" y="108.6" width="4.9" height="4" fill="#45b35a"/>
<rect x="253.45" y="108.6" width="4.9" height="4" fill="#45b35a"/>
<rect x="259.05" y="108.6" width="4.9" height="4" fill="#45b35a"/>
<rect x="264.65" y="108.6" width="4.9" height="4" fill="#45b35a"/>
<rect x="270.25" y="108.6" width="4.9" height="4" fill="#45b35a"/>
<rect x="275.85" y="108.6" width="4.9" height="4" fill="#45b35a"/>
<rect x="281.45" y="108.6" width="4.9" height="4" fill="#45b35a"/>
<rect x="287.05" y="108.6" width="4.9" height="4" fill="#45b35a"/>
<rect x="292.65" y="108.6" width="4.9" height="4" fill="#edf5ea"/>
<rect x="298.25" y="108.6" width="4.9" height="4" fill="#45b35a"/>
<rect x="303.85" y="108.6" width="4.9" height="4" fill="#45b35a"/>
<rect x="309.45" y="108.6" width="4.9" height="4" fill="#45b35a"/>
<rect x="315.05" y="108.6" width="4.9" height="4" fill="#45b35a"/>
<rect x="320.65" y="108.6" width="4.9" height="4" fill="#45b35a"/>
<rect x="326.25" y="108.6" width="4.9" height="4" fill="#45b35a"/>
<rect x="331.85" y="108.6" width="4.9" height="4" fill="#45b35a"/>
<rect x="337.45" y="108.6" width="4.9" height="4" fill="#edf5ea"/>
<text x="346.2" y="111.7" font-size="5" stroke="#231f20" stroke-width="0.06" font-style="italic">TP53</text>
<rect x="219.85" y="113.3" width="4.9" height="4" fill="#edf5ea"/>
<rect x="225.45" y="113.3" width="4.9" height="4" fill="#45b35a"/>
<rect x="231.05" y="113.3" width="4.9" height="4" fill="#edf5ea"/>
<rect x="236.65" y="113.3" width="4.9" height="4" fill="#edf5ea"/>
<rect x="242.25" y="113.3" width="4.9" height="4" fill="#45b35a"/>
<rect x="247.85" y="113.3" width="4.9" height="4" fill="#45b35a"/>
<rect x="253.45" y="113.3" width="4.9" height="4" fill="#45b35a"/>
<rect x="259.05" y="113.3" width="4.9" height="4" fill="#edf5ea"/>
<rect x="264.65" y="113.3" width="4.9" height="4" fill="#edf5ea"/>
<rect x="270.25" y="113.3" width="4.9" height="4" fill="#45b35a"/>
<rect x="275.85" y="113.3" width="4.9" height="4" fill="#45b35a"/>
<rect x="281.45" y="113.3" width="4.9" height="4" fill="#edf5ea"/>
<rect x="287.05" y="113.3" width="4.9" height="4" fill="#45b35a"/>
<rect x="292.65" y="113.3" width="4.9" height="4" fill="#45b35a"/>
<rect x="298.25" y="113.3" width="4.9" height="4" fill="#edf5ea"/>
<rect x="303.85" y="113.3" width="4.9" height="4" fill="#edf5ea"/>
<rect x="309.45" y="113.3" width="4.9" height="4" fill="#45b35a"/>
<rect x="315.05" y="113.3" width="4.9" height="4" fill="#edf5ea"/>
<rect x="320.65" y="113.3" width="4.9" height="4" fill="#45b35a"/>
<rect x="326.25" y="113.3" width="4.9" height="4" fill="#45b35a"/>
<rect x="331.85" y="113.3" width="4.9" height="4" fill="#edf5ea"/>
<rect x="337.45" y="113.3" width="4.9" height="4" fill="#edf5ea"/>
<text x="346.2" y="116.63" font-size="5" stroke="#231f20" stroke-width="0.06" font-style="italic">SMAD4</text>
<rect x="219.85" y="118" width="4.9" height="4" fill="#edf5ea"/>
<rect x="225.45" y="118" width="4.9" height="4" fill="#45b35a"/>
<rect x="231.05" y="118" width="4.9" height="4" fill="#edf5ea"/>
<rect x="236.65" y="118" width="4.9" height="4" fill="#edf5ea"/>
<rect x="242.25" y="118" width="4.9" height="4" fill="#45b35a"/>
<rect x="247.85" y="118" width="4.9" height="4" fill="#edf5ea"/>
<rect x="253.45" y="118" width="4.9" height="4" fill="#45b35a"/>
<rect x="259.05" y="118" width="4.9" height="4" fill="#edf5ea"/>
<rect x="264.65" y="118" width="4.9" height="4" fill="#edf5ea"/>
<rect x="270.25" y="118" width="4.9" height="4" fill="#45b35a"/>
<rect x="275.85" y="118" width="4.9" height="4" fill="#45b35a"/>
<rect x="281.45" y="118" width="4.9" height="4" fill="#edf5ea"/>
<rect x="287.05" y="118" width="4.9" height="4" fill="#45b35a"/>
<rect x="292.65" y="118" width="4.9" height="4" fill="#edf5ea"/>
<rect x="298.25" y="118" width="4.9" height="4" fill="#45b35a"/>
<rect x="303.85" y="118" width="4.9" height="4" fill="#edf5ea"/>
<rect x="309.45" y="118" width="4.9" height="4" fill="#45b35a"/>
<rect x="315.05" y="118" width="4.9" height="4" fill="#edf5ea"/>
<rect x="320.65" y="118" width="4.9" height="4" fill="#45b35a"/>
<rect x="326.25" y="118" width="4.9" height="4" fill="#edf5ea"/>
<rect x="331.85" y="118" width="4.9" height="4" fill="#edf5ea"/>
<rect x="337.45" y="118" width="4.9" height="4" fill="#45b35a"/>
<text x="346.2" y="121.56" font-size="5" stroke="#231f20" stroke-width="0.06" font-style="italic">ARID1A</text>
<rect x="219.85" y="122.7" width="4.9" height="4" fill="#edf5ea"/>
<rect x="225.45" y="122.7" width="4.9" height="4" fill="#edf5ea"/>
<rect x="231.05" y="122.7" width="4.9" height="4" fill="#edf5ea"/>
<rect x="236.65" y="122.7" width="4.9" height="4" fill="#edf5ea"/>
<rect x="242.25" y="122.7" width="4.9" height="4" fill="#edf5ea"/>
<rect x="247.85" y="122.7" width="4.9" height="4" fill="#edf5ea"/>
<rect x="253.45" y="122.7" width="4.9" height="4" fill="#45b35a"/>
<rect x="259.05" y="122.7" width="4.9" height="4" fill="#edf5ea"/>
<rect x="264.65" y="122.7" width="4.9" height="4" fill="#edf5ea"/>
<rect x="270.25" y="122.7" width="4.9" height="4" fill="#45b35a"/>
<rect x="275.85" y="122.7" width="4.9" height="4" fill="#45b35a"/>
<rect x="281.45" y="122.7" width="4.9" height="4" fill="#edf5ea"/>
<rect x="287.05" y="122.7" width="4.9" height="4" fill="#edf5ea"/>
<rect x="292.65" y="122.7" width="4.9" height="4" fill="#45b35a"/>
<rect x="298.25" y="122.7" width="4.9" height="4" fill="#45b35a"/>
<rect x="303.85" y="122.7" width="4.9" height="4" fill="#edf5ea"/>
<rect x="309.45" y="122.7" width="4.9" height="4" fill="#45b35a"/>
<rect x="315.05" y="122.7" width="4.9" height="4" fill="#edf5ea"/>
<rect x="320.65" y="122.7" width="4.9" height="4" fill="#edf5ea"/>
<rect x="326.25" y="122.7" width="4.9" height="4" fill="#edf5ea"/>
<rect x="331.85" y="122.7" width="4.9" height="4" fill="#edf5ea"/>
<rect x="337.45" y="122.7" width="4.9" height="4" fill="#edf5ea"/>
<text x="346.2" y="126.49" font-size="5" stroke="#231f20" stroke-width="0.06" font-style="italic">BRCA2</text>
<rect x="219.85" y="127.4" width="4.9" height="4" fill="#edf5ea"/>
<circle cx="222.3" cy="129.4" r="1.15" fill="#231f20"/>
<rect x="225.45" y="127.4" width="4.9" height="4" fill="#edf5ea"/>
<circle cx="227.9" cy="129.4" r="1.15" fill="#231f20"/>
<rect x="231.05" y="127.4" width="4.9" height="4" fill="#edf5ea"/>
<rect x="236.65" y="127.4" width="4.9" height="4" fill="#edf5ea"/>
<rect x="242.25" y="127.4" width="4.9" height="4" fill="#45b35a"/>
<rect x="247.85" y="127.4" width="4.9" height="4" fill="#edf5ea"/>
<rect x="253.45" y="127.4" width="4.9" height="4" fill="#edf5ea"/>
<circle cx="255.9" cy="129.4" r="1.15" fill="#231f20"/>
<rect x="259.05" y="127.4" width="4.9" height="4" fill="#edf5ea"/>
<circle cx="261.5" cy="129.4" r="1.15" fill="#231f20"/>
<rect x="264.65" y="127.4" width="4.9" height="4" fill="#edf5ea"/>
<circle cx="267.1" cy="129.4" r="1.15" fill="#231f20"/>
<rect x="270.25" y="127.4" width="4.9" height="4" fill="#2f7a45"/>
<circle cx="272.7" cy="129.4" r="1.15" fill="#231f20"/>
<rect x="275.85" y="127.4" width="4.9" height="4" fill="#edf5ea"/>
<circle cx="278.3" cy="129.4" r="1.15" fill="#231f20"/>
<rect x="281.45" y="127.4" width="4.9" height="4" fill="#edf5ea"/>
<circle cx="283.9" cy="129.4" r="1.15" fill="#231f20"/>
<rect x="287.05" y="127.4" width="4.9" height="4" fill="#edf5ea"/>
<rect x="292.65" y="127.4" width="4.9" height="4" fill="#edf5ea"/>
<circle cx="295.1" cy="129.4" r="1.15" fill="#231f20"/>
<rect x="298.25" y="127.4" width="4.9" height="4" fill="#edf5ea"/>
<circle cx="300.7" cy="129.4" r="1.15" fill="#231f20"/>
<rect x="303.85" y="127.4" width="4.9" height="4" fill="#edf5ea"/>
<circle cx="306.3" cy="129.4" r="1.15" fill="#231f20"/>
<rect x="309.45" y="127.4" width="4.9" height="4" fill="#edf5ea"/>
<circle cx="311.9" cy="129.4" r="1.15" fill="#231f20"/>
<rect x="315.05" y="127.4" width="4.9" height="4" fill="#edf5ea"/>
<circle cx="317.5" cy="129.4" r="1.15" fill="#231f20"/>
<rect x="320.65" y="127.4" width="4.9" height="4" fill="#edf5ea"/>
<circle cx="323.1" cy="129.4" r="1.15" fill="#231f20"/>
<rect x="326.25" y="127.4" width="4.9" height="4" fill="#45b35a"/>
<rect x="331.85" y="127.4" width="4.9" height="4" fill="#edf5ea"/>
<circle cx="334.3" cy="129.4" r="1.15" fill="#231f20"/>
<rect x="337.45" y="127.4" width="4.9" height="4" fill="#45b35a"/>
<text x="346.2" y="131.42" font-size="5" stroke="#231f20" stroke-width="0.06" font-style="italic">CDKN2A</text>
<text x="223.98" y="133.2" font-size="4.8" text-anchor="end" stroke="#222" stroke-width="0.06" fill="#222" transform="rotate(-90 223.98 133.2)">KP4</text>
<text x="229.58" y="133.2" font-size="4.8" text-anchor="end" stroke="#222" stroke-width="0.06" fill="#222" transform="rotate(-90 229.58 133.2)">PANC05</text>
<text x="235.18" y="133.2" font-size="4.8" text-anchor="end" stroke="#222" stroke-width="0.06" fill="#222" transform="rotate(-90 235.18 133.2)">PANC035</text>
<text x="240.78" y="133.2" font-size="4.8" text-anchor="end" stroke="#222" stroke-width="0.06" fill="#222" transform="rotate(-90 240.78 133.2)">PAN1001</text>
<text x="246.38" y="133.2" font-size="4.8" text-anchor="end" stroke="#222" stroke-width="0.06" fill="#222" transform="rotate(-90 246.38 133.2)">PANC028</text>
<text x="251.98" y="133.2" font-size="4.8" text-anchor="end" stroke="#222" stroke-width="0.06" fill="#222" transform="rotate(-90 251.98 133.2)">AsPC-1</text>
<text x="257.58" y="133.2" font-size="4.8" text-anchor="end" stroke="#222" stroke-width="0.06" fill="#222" transform="rotate(-90 257.58 133.2)">PANC030</text>
<text x="263.18" y="133.2" font-size="4.8" text-anchor="end" stroke="#222" stroke-width="0.06" fill="#222" transform="rotate(-90 263.18 133.2)">PANC032</text>
<text x="268.78" y="133.2" font-size="4.8" text-anchor="end" stroke="#222" stroke-width="0.06" fill="#222" transform="rotate(-90 268.78 133.2)">PANC024</text>
<text x="274.38" y="133.2" font-size="4.8" text-anchor="end" stroke="#222" stroke-width="0.06" fill="#222" transform="rotate(-90 274.38 133.2)">PANC014</text>
<text x="279.98" y="133.2" font-size="4.8" text-anchor="end" stroke="#222" stroke-width="0.06" fill="#222" transform="rotate(-90 279.98 133.2)">PANC039</text>
<text x="285.58" y="133.2" font-size="4.8" text-anchor="end" stroke="#222" stroke-width="0.06" fill="#222" transform="rotate(-90 285.58 133.2)">Capan-2</text>
<text x="291.18" y="133.2" font-size="4.8" text-anchor="end" stroke="#222" stroke-width="0.06" fill="#222" transform="rotate(-90 291.18 133.2)">PANC001</text>
<text x="296.78" y="133.2" font-size="4.8" text-anchor="end" stroke="#222" stroke-width="0.06" fill="#222" transform="rotate(-90 296.78 133.2)">Capan-1</text>
<text x="302.38" y="133.2" font-size="4.8" text-anchor="end" stroke="#222" stroke-width="0.06" fill="#222" transform="rotate(-90 302.38 133.2)">PANC043</text>
<text x="307.98" y="133.2" font-size="4.8" text-anchor="end" stroke="#222" stroke-width="0.06" fill="#222" transform="rotate(-90 307.98 133.2)">PANC022</text>
<text x="313.58" y="133.2" font-size="4.8" text-anchor="end" stroke="#222" stroke-width="0.06" fill="#222" transform="rotate(-90 313.58 133.2)">PANC031</text>
<text x="319.18" y="133.2" font-size="4.8" text-anchor="end" stroke="#222" stroke-width="0.06" fill="#222" transform="rotate(-90 319.18 133.2)">PANC038</text>
<text x="324.78" y="133.2" font-size="4.8" text-anchor="end" stroke="#222" stroke-width="0.06" fill="#222" transform="rotate(-90 324.78 133.2)">PANC023</text>
<text x="330.38" y="133.2" font-size="4.8" text-anchor="end" stroke="#222" stroke-width="0.06" fill="#222" transform="rotate(-90 330.38 133.2)">HPAC</text>
<text x="335.98" y="133.2" font-size="4.8" text-anchor="end" stroke="#222" stroke-width="0.06" fill="#222" transform="rotate(-90 335.98 133.2)">PANC047</text>
<text x="341.58" y="133.2" font-size="4.8" text-anchor="end" stroke="#222" stroke-width="0.06" fill="#222" transform="rotate(-90 341.58 133.2)">PANC009</text>
<line x1="388.3" y1="82.35" x2="498.5" y2="82.35" stroke="#c4a2a2" stroke-width="0.7" stroke-dasharray="1.6,1.8"/>
<line x1="388.3" y1="91.65" x2="498.5" y2="91.65" stroke="#333" stroke-width="0.8" stroke-dasharray="2,1.8"/>
<line x1="388.3" y1="99.4" x2="498.5" y2="99.4" stroke="#b89c9c" stroke-width="0.7" stroke-dasharray="1.6,1.8"/>
<rect x="389.4" y="49.34" width="3.8" height="37.66" fill="#4db85f"/>
<line x1="391.3" y1="49.34" x2="391.3" y2="38.48" stroke="#b8b8b8" stroke-width="0.5"/>
<line x1="390.1" y1="38.48" x2="392.5" y2="38.48" stroke="#b8b8b8" stroke-width="0.5"/>
<rect x="394.08" y="52.59" width="3.8" height="34.41" fill="#4db85f"/>
<line x1="395.98" y1="52.59" x2="395.98" y2="45.62" stroke="#b8b8b8" stroke-width="0.5"/>
<line x1="394.78" y1="45.62" x2="397.18" y2="45.62" stroke="#b8b8b8" stroke-width="0.5"/>
<rect x="398.76" y="69.02" width="3.8" height="17.98" fill="#a9dbd1"/>
<line x1="400.66" y1="69.02" x2="400.66" y2="66.69" stroke="#b8b8b8" stroke-width="0.5"/>
<line x1="399.46" y1="66.69" x2="401.86" y2="66.69" stroke="#b8b8b8" stroke-width="0.5"/>
<rect x="403.44" y="70.11" width="3.8" height="16.89" fill="#0d3a30"/>
<line x1="405.34" y1="70.11" x2="405.34" y2="65.77" stroke="#b8b8b8" stroke-width="0.5"/>
<line x1="404.14" y1="65.77" x2="406.54" y2="65.77" stroke="#b8b8b8" stroke-width="0.5"/>
<rect x="408.12" y="71.81" width="3.8" height="15.19" fill="#4db85f"/>
<line x1="410.02" y1="71.81" x2="410.02" y2="69.02" stroke="#b8b8b8" stroke-width="0.5"/>
<line x1="408.82" y1="69.02" x2="411.22" y2="69.02" stroke="#b8b8b8" stroke-width="0.5"/>
<rect x="412.8" y="73.2" width="3.8" height="13.8" fill="#1f6b56"/>
<line x1="414.7" y1="73.2" x2="414.7" y2="69.33" stroke="#b8b8b8" stroke-width="0.5"/>
<line x1="413.5" y1="69.33" x2="415.9" y2="69.33" stroke="#b8b8b8" stroke-width="0.5"/>
<rect x="417.48" y="77.08" width="3.8" height="9.92" fill="#4db85f"/>
<line x1="419.38" y1="77.08" x2="419.38" y2="73.67" stroke="#b8b8b8" stroke-width="0.5"/>
<line x1="418.18" y1="73.67" x2="420.58" y2="73.67" stroke="#b8b8b8" stroke-width="0.5"/>
<rect x="422.16" y="78.01" width="3.8" height="8.99" fill="#0d3a30"/>
<line x1="424.06" y1="78.01" x2="424.06" y2="74.14" stroke="#b8b8b8" stroke-width="0.5"/>
<line x1="422.86" y1="74.14" x2="425.26" y2="74.14" stroke="#b8b8b8" stroke-width="0.5"/>
<rect x="426.84" y="78.01" width="3.8" height="8.99" fill="#0d3a30"/>
<line x1="428.74" y1="78.01" x2="428.74" y2="73.36" stroke="#b8b8b8" stroke-width="0.5"/>
<line x1="427.54" y1="73.36" x2="429.94" y2="73.36" stroke="#b8b8b8" stroke-width="0.5"/>
<rect x="431.52" y="79.25" width="3.8" height="7.75" fill="#4db85f"/>
<line x1="433.42" y1="79.25" x2="433.42" y2="76.92" stroke="#b8b8b8" stroke-width="0.5"/>
<line x1="432.22" y1="76.92" x2="434.62" y2="76.92" stroke="#b8b8b8" stroke-width="0.5"/>
<rect x="436.2" y="80.03" width="3.8" height="6.97" fill="#4db85f"/>
<line x1="438.1" y1="80.03" x2="438.1" y2="78.17" stroke="#b8b8b8" stroke-width="0.5"/>
<line x1="436.9" y1="78.17" x2="439.3" y2="78.17" stroke="#b8b8b8" stroke-width="0.5"/>
<rect x="440.88" y="81.73" width="3.8" height="5.27" fill="#4db85f"/>
<line x1="442.78" y1="81.73" x2="442.78" y2="77.08" stroke="#b8b8b8" stroke-width="0.5"/>
<line x1="441.58" y1="77.08" x2="443.98" y2="77.08" stroke="#b8b8b8" stroke-width="0.5"/>
<rect x="445.56" y="84.83" width="3.8" height="2.17" fill="#0d3a30"/>
<line x1="447.46" y1="84.83" x2="447.46" y2="79.41" stroke="#b8b8b8" stroke-width="0.5"/>
<line x1="446.26" y1="79.41" x2="448.66" y2="79.41" stroke="#b8b8b8" stroke-width="0.5"/>
<rect x="450.24" y="87" width="3.8" height="0" fill="#1f6b56"/>
<line x1="452.14" y1="87" x2="452.14" y2="82.35" stroke="#b8b8b8" stroke-width="0.5"/>
<line x1="450.94" y1="82.35" x2="453.34" y2="82.35" stroke="#b8b8b8" stroke-width="0.5"/>
<rect x="454.92" y="87" width="3.8" height="0.31" fill="#0d3a30"/>
<line x1="456.82" y1="87.31" x2="456.82" y2="88.55" stroke="#b8b8b8" stroke-width="0.5"/>
<line x1="455.62" y1="88.55" x2="458.02" y2="88.55" stroke="#b8b8b8" stroke-width="0.5"/>
<rect x="459.6" y="87" width="3.8" height="2.94" fill="#1f6b56"/>
<line x1="461.5" y1="89.94" x2="461.5" y2="90.72" stroke="#b8b8b8" stroke-width="0.5"/>
<line x1="460.3" y1="90.72" x2="462.7" y2="90.72" stroke="#b8b8b8" stroke-width="0.5"/>
<rect x="464.28" y="87" width="3.8" height="4.19" fill="#4db85f"/>
<line x1="466.18" y1="91.19" x2="466.18" y2="92.11" stroke="#b8b8b8" stroke-width="0.5"/>
<line x1="464.98" y1="92.11" x2="467.38" y2="92.11" stroke="#b8b8b8" stroke-width="0.5"/>
<rect x="468.96" y="87" width="3.8" height="8.53" fill="#1f6b56"/>
<line x1="470.86" y1="95.53" x2="470.86" y2="96.3" stroke="#b8b8b8" stroke-width="0.5"/>
<line x1="469.66" y1="96.3" x2="472.06" y2="96.3" stroke="#b8b8b8" stroke-width="0.5"/>
<rect x="473.64" y="87" width="3.8" height="10.39" fill="#1f6b56"/>
<line x1="475.54" y1="97.39" x2="475.54" y2="98" stroke="#b8b8b8" stroke-width="0.5"/>
<line x1="474.34" y1="98" x2="476.74" y2="98" stroke="#b8b8b8" stroke-width="0.5"/>
<rect x="478.32" y="87" width="3.8" height="11" fill="#1f6b56"/>
<line x1="480.22" y1="98" x2="480.22" y2="98.62" stroke="#b8b8b8" stroke-width="0.5"/>
<line x1="479.02" y1="98.62" x2="481.42" y2="98.62" stroke="#b8b8b8" stroke-width="0.5"/>
<rect x="483" y="87" width="3.8" height="11" fill="#1f6b56"/>
<line x1="484.9" y1="98" x2="484.9" y2="98.47" stroke="#b8b8b8" stroke-width="0.5"/>
<line x1="483.7" y1="98.47" x2="486.1" y2="98.47" stroke="#b8b8b8" stroke-width="0.5"/>
<rect x="487.68" y="87" width="3.8" height="13.95" fill="#0d3a30"/>
<line x1="489.58" y1="100.95" x2="489.58" y2="101.26" stroke="#b8b8b8" stroke-width="0.5"/>
<line x1="488.38" y1="101.26" x2="490.78" y2="101.26" stroke="#b8b8b8" stroke-width="0.5"/>
<rect x="492.36" y="87" width="3.8" height="14.11" fill="#4db85f"/>
<line x1="494.26" y1="101.11" x2="494.26" y2="101.41" stroke="#b8b8b8" stroke-width="0.5"/>
<line x1="493.06" y1="101.41" x2="495.46" y2="101.41" stroke="#b8b8b8" stroke-width="0.5"/>
<line x1="388.3" y1="87" x2="498.5" y2="87" stroke="#231f20" stroke-width="0.8"/>
<line x1="388.3" y1="102.5" x2="498.5" y2="102.5" stroke="#231f20" stroke-width="0.8"/>
<line x1="388.3" y1="24" x2="388.3" y2="102.5" stroke="#231f20" stroke-width="0.6"/>
<line x1="386.5" y1="24" x2="388.3" y2="24" stroke="#231f20" stroke-width="0.6"/>
<text x="385.2" y="26.47" font-size="6.5" text-anchor="end" stroke="#231f20">400</text>
<line x1="386.5" y1="39.8" x2="388.3" y2="39.8" stroke="#231f20" stroke-width="0.6"/>
<text x="385.2" y="42.27" font-size="6.5" text-anchor="end" stroke="#231f20">300</text>
<line x1="386.5" y1="55.6" x2="388.3" y2="55.6" stroke="#231f20" stroke-width="0.6"/>
<text x="385.2" y="58.07" font-size="6.5" text-anchor="end" stroke="#231f20">200</text>
<line x1="386.5" y1="71.5" x2="388.3" y2="71.5" stroke="#231f20" stroke-width="0.6"/>
<text x="385.2" y="73.97" font-size="6.5" text-anchor="end" stroke="#231f20">100</text>
<line x1="386.5" y1="87" x2="388.3" y2="87" stroke="#231f20" stroke-width="0.6"/>
<text x="385.2" y="89.47" font-size="6.5" text-anchor="end" stroke="#231f20">0</text>
<line x1="386.5" y1="102.5" x2="388.3" y2="102.5" stroke="#231f20" stroke-width="0.6"/>
<text x="385.2" y="104.97" font-size="6.5" text-anchor="end" stroke="#231f20">−100</text>
<line x1="503.5" y1="27.4" x2="503.5" y2="102.5" stroke="#231f20" stroke-width="0.6"/>
<line x1="501.1" y1="27.4" x2="503.5" y2="27.4" stroke="#231f20" stroke-width="0.7"/>
<line x1="501.1" y1="82.35" x2="503.5" y2="82.35" stroke="#231f20" stroke-width="0.7"/>
<line x1="501.1" y1="91.65" x2="503.5" y2="91.65" stroke="#231f20" stroke-width="0.7"/>
<line x1="501.1" y1="99.4" x2="503.5" y2="99.4" stroke="#231f20" stroke-width="0.7"/>
<line x1="501.1" y1="102.5" x2="503.5" y2="102.5" stroke="#231f20" stroke-width="0.7"/>
<text x="504.8" y="56.9" font-size="6.3" stroke="#231f20">mPD</text>
<text x="504.8" y="89.1" font-size="6.3" stroke="#231f20">mSD</text>
<text x="504.8" y="95.9" font-size="6.3" stroke="#231f20">mPR</text>
<text x="504.8" y="102.5" font-size="6.3" stroke="#231f20">mCR</text>
<circle cx="391.3" cy="105.8" r="2.2" fill="#dcdcdc"/>
<text x="391.3" y="107.6" font-size="5" text-anchor="middle" font-weight="bold" stroke="#4a4a4a" stroke-width="0.06" fill="#4a4a4a">D</text>
<circle cx="395.98" cy="105.8" r="2.2" fill="#dcdcdc"/>
<text x="395.98" y="107.6" font-size="5" text-anchor="middle" font-weight="bold" stroke="#4a4a4a" stroke-width="0.06" fill="#4a4a4a">D</text>
<circle cx="400.66" cy="105.8" r="2.2" fill="#dcdcdc"/>
<text x="400.66" y="107.6" font-size="5" text-anchor="middle" font-weight="bold" stroke="#4a4a4a" stroke-width="0.06" fill="#4a4a4a">A</text>
<circle cx="405.34" cy="105.8" r="2.2" fill="#dcdcdc"/>
<text x="405.34" y="107.6" font-size="5" text-anchor="middle" font-weight="bold" stroke="#4a4a4a" stroke-width="0.06" fill="#4a4a4a">C</text>
<circle cx="410.02" cy="105.8" r="2.2" fill="#dcdcdc"/>
<text x="410.02" y="107.6" font-size="5" text-anchor="middle" font-weight="bold" stroke="#4a4a4a" stroke-width="0.06" fill="#4a4a4a">D</text>
<circle cx="414.7" cy="105.8" r="2.2" fill="#dcdcdc"/>
<text x="414.7" y="107.6" font-size="5" text-anchor="middle" font-weight="bold" stroke="#4a4a4a" stroke-width="0.06" fill="#4a4a4a">V</text>
<circle cx="419.38" cy="105.8" r="2.2" fill="#dcdcdc"/>
<text x="419.38" y="107.6" font-size="5" text-anchor="middle" font-weight="bold" stroke="#4a4a4a" stroke-width="0.06" fill="#4a4a4a">D</text>
<circle cx="424.06" cy="105.8" r="2.2" fill="#dcdcdc"/>
<text x="424.06" y="107.6" font-size="5" text-anchor="middle" font-weight="bold" stroke="#4a4a4a" stroke-width="0.06" fill="#4a4a4a">C</text>
<circle cx="428.74" cy="105.8" r="2.2" fill="#dcdcdc"/>
<text x="428.74" y="107.6" font-size="5" text-anchor="middle" font-weight="bold" stroke="#4a4a4a" stroke-width="0.06" fill="#4a4a4a">C</text>
<circle cx="433.42" cy="105.8" r="2.2" fill="#dcdcdc"/>
<text x="433.42" y="107.6" font-size="5" text-anchor="middle" font-weight="bold" stroke="#4a4a4a" stroke-width="0.06" fill="#4a4a4a">D</text>
<circle cx="438.1" cy="105.8" r="2.2" fill="#dcdcdc"/>
<text x="438.1" y="107.6" font-size="5" text-anchor="middle" font-weight="bold" stroke="#4a4a4a" stroke-width="0.06" fill="#4a4a4a">D</text>
<circle cx="442.78" cy="105.8" r="2.2" fill="#dcdcdc"/>
<text x="442.78" y="107.6" font-size="5" text-anchor="middle" font-weight="bold" stroke="#4a4a4a" stroke-width="0.06" fill="#4a4a4a">D</text>
<circle cx="447.46" cy="105.8" r="2.2" fill="#dcdcdc"/>
<text x="447.46" y="107.6" font-size="5" text-anchor="middle" font-weight="bold" stroke="#4a4a4a" stroke-width="0.06" fill="#4a4a4a">C</text>
<circle cx="452.14" cy="105.8" r="2.2" fill="#dcdcdc"/>
<text x="452.14" y="107.6" font-size="5" text-anchor="middle" font-weight="bold" stroke="#4a4a4a" stroke-width="0.06" fill="#4a4a4a">V</text>
<circle cx="456.82" cy="105.8" r="2.2" fill="#dcdcdc"/>
<text x="456.82" y="107.6" font-size="5" text-anchor="middle" font-weight="bold" stroke="#4a4a4a" stroke-width="0.06" fill="#4a4a4a">C</text>
<circle cx="461.5" cy="105.8" r="2.2" fill="#dcdcdc"/>
<text x="461.5" y="107.6" font-size="5" text-anchor="middle" font-weight="bold" stroke="#4a4a4a" stroke-width="0.06" fill="#4a4a4a">V</text>
<circle cx="466.18" cy="105.8" r="2.2" fill="#dcdcdc"/>
<text x="466.18" y="107.6" font-size="5" text-anchor="middle" font-weight="bold" stroke="#4a4a4a" stroke-width="0.06" fill="#4a4a4a">D</text>
<circle cx="470.86" cy="105.8" r="2.2" fill="#dcdcdc"/>
<text x="470.86" y="107.6" font-size="5" text-anchor="middle" font-weight="bold" stroke="#4a4a4a" stroke-width="0.06" fill="#4a4a4a">V</text>
<circle cx="475.54" cy="105.8" r="2.2" fill="#dcdcdc"/>
<text x="475.54" y="107.6" font-size="5" text-anchor="middle" font-weight="bold" stroke="#4a4a4a" stroke-width="0.06" fill="#4a4a4a">V</text>
<circle cx="480.22" cy="105.8" r="2.2" fill="#dcdcdc"/>
<text x="480.22" y="107.6" font-size="5" text-anchor="middle" font-weight="bold" stroke="#4a4a4a" stroke-width="0.06" fill="#4a4a4a">V</text>
<circle cx="484.9" cy="105.8" r="2.2" fill="#dcdcdc"/>
<text x="484.9" y="107.6" font-size="5" text-anchor="middle" font-weight="bold" stroke="#4a4a4a" stroke-width="0.06" fill="#4a4a4a">V</text>
<circle cx="489.58" cy="105.8" r="2.2" fill="#dcdcdc"/>
<text x="489.58" y="107.6" font-size="5" text-anchor="middle" font-weight="bold" stroke="#4a4a4a" stroke-width="0.06" fill="#4a4a4a">C</text>
<circle cx="494.26" cy="105.8" r="2.2" fill="#dcdcdc"/>
<text x="494.26" y="107.6" font-size="5" text-anchor="middle" font-weight="bold" stroke="#4a4a4a" stroke-width="0.06" fill="#4a4a4a">D</text>
<rect x="389.31" y="108.55" width="3.98" height="4.1" fill="#45b35a"/>
<rect x="393.99" y="108.55" width="3.98" height="4.1" fill="#45b35a"/>
<rect x="398.67" y="108.55" width="3.98" height="4.1" fill="#45b35a"/>
<rect x="403.35" y="108.55" width="3.98" height="4.1" fill="#45b35a"/>
<rect x="408.03" y="108.55" width="3.98" height="4.1" fill="#edf5ea"/>
<rect x="412.71" y="108.55" width="3.98" height="4.1" fill="#45b35a"/>
<rect x="417.39" y="108.55" width="3.98" height="4.1" fill="#45b35a"/>
<rect x="422.07" y="108.55" width="3.98" height="4.1" fill="#45b35a"/>
<rect x="426.75" y="108.55" width="3.98" height="4.1" fill="#45b35a"/>
<rect x="431.43" y="108.55" width="3.98" height="4.1" fill="#45b35a"/>
<rect x="436.11" y="108.55" width="3.98" height="4.1" fill="#45b35a"/>
<rect x="440.79" y="108.55" width="3.98" height="4.1" fill="#45b35a"/>
<rect x="445.47" y="108.55" width="3.98" height="4.1" fill="#45b35a"/>
<rect x="450.15" y="108.55" width="3.98" height="4.1" fill="#45b35a"/>
<rect x="454.83" y="108.55" width="3.98" height="4.1" fill="#45b35a"/>
<rect x="459.51" y="108.55" width="3.98" height="4.1" fill="#45b35a"/>
<rect x="464.19" y="108.55" width="3.98" height="4.1" fill="#45b35a"/>
<rect x="468.87" y="108.55" width="3.98" height="4.1" fill="#edf5ea"/>
<rect x="473.55" y="108.55" width="3.98" height="4.1" fill="#45b35a"/>
<rect x="478.23" y="108.55" width="3.98" height="4.1" fill="#45b35a"/>
<rect x="482.91" y="108.55" width="3.98" height="4.1" fill="#45b35a"/>
<rect x="487.59" y="108.55" width="3.98" height="4.1" fill="#45b35a"/>
<rect x="492.27" y="108.55" width="3.98" height="4.1" fill="#edf5ea"/>
<text x="499.7" y="111.7" font-size="5" stroke="#231f20" stroke-width="0.06" font-style="italic">APC</text>
<rect x="389.31" y="113.35" width="3.98" height="4.1" fill="#45b35a"/>
<rect x="393.99" y="113.35" width="3.98" height="4.1" fill="#edf5ea"/>
<rect x="398.67" y="113.35" width="3.98" height="4.1" fill="#45b35a"/>
<rect x="403.35" y="113.35" width="3.98" height="4.1" fill="#45b35a"/>
<rect x="408.03" y="113.35" width="3.98" height="4.1" fill="#edf5ea"/>
<rect x="412.71" y="113.35" width="3.98" height="4.1" fill="#45b35a"/>
<rect x="417.39" y="113.35" width="3.98" height="4.1" fill="#45b35a"/>
<rect x="422.07" y="113.35" width="3.98" height="4.1" fill="#edf5ea"/>
<rect x="426.75" y="113.35" width="3.98" height="4.1" fill="#45b35a"/>
<rect x="431.43" y="113.35" width="3.98" height="4.1" fill="#edf5ea"/>
<rect x="436.11" y="113.35" width="3.98" height="4.1" fill="#45b35a"/>
<rect x="440.79" y="113.35" width="3.98" height="4.1" fill="#45b35a"/>
<rect x="445.47" y="113.35" width="3.98" height="4.1" fill="#45b35a"/>
<rect x="450.15" y="113.35" width="3.98" height="4.1" fill="#45b35a"/>
<rect x="454.83" y="113.35" width="3.98" height="4.1" fill="#45b35a"/>
<rect x="459.51" y="113.35" width="3.98" height="4.1" fill="#45b35a"/>
<rect x="464.19" y="113.35" width="3.98" height="4.1" fill="#edf5ea"/>
<rect x="468.87" y="113.35" width="3.98" height="4.1" fill="#45b35a"/>
<rect x="473.55" y="113.35" width="3.98" height="4.1" fill="#45b35a"/>
<rect x="478.23" y="113.35" width="3.98" height="4.1" fill="#edf5ea"/>
<rect x="482.91" y="113.35" width="3.98" height="4.1" fill="#45b35a"/>
<rect x="487.59" y="113.35" width="3.98" height="4.1" fill="#45b35a"/>
<rect x="492.27" y="113.35" width="3.98" height="4.1" fill="#45b35a"/>
<text x="499.7" y="116.63" font-size="5" stroke="#231f20" stroke-width="0.06" font-style="italic">TP53</text>
<rect x="389.31" y="118.15" width="3.98" height="4.1" fill="#45b35a"/>
<rect x="393.99" y="118.15" width="3.98" height="4.1" fill="#45b35a"/>
<rect x="398.67" y="118.15" width="3.98" height="4.1" fill="#45b35a"/>
<rect x="403.35" y="118.15" width="3.98" height="4.1" fill="#45b35a"/>
<rect x="408.03" y="118.15" width="3.98" height="4.1" fill="#edf5ea"/>
<rect x="412.71" y="118.15" width="3.98" height="4.1" fill="#45b35a"/>
<rect x="417.39" y="118.15" width="3.98" height="4.1" fill="#edf5ea"/>
<rect x="422.07" y="118.15" width="3.98" height="4.1" fill="#45b35a"/>
<rect x="426.75" y="118.15" width="3.98" height="4.1" fill="#45b35a"/>
<rect x="431.43" y="118.15" width="3.98" height="4.1" fill="#edf5ea"/>
<rect x="436.11" y="118.15" width="3.98" height="4.1" fill="#edf5ea"/>
<rect x="440.79" y="118.15" width="3.98" height="4.1" fill="#45b35a"/>
<rect x="445.47" y="118.15" width="3.98" height="4.1" fill="#45b35a"/>
<rect x="450.15" y="118.15" width="3.98" height="4.1" fill="#edf5ea"/>
<rect x="454.83" y="118.15" width="3.98" height="4.1" fill="#45b35a"/>
<rect x="459.51" y="118.15" width="3.98" height="4.1" fill="#edf5ea"/>
<rect x="464.19" y="118.15" width="3.98" height="4.1" fill="#edf5ea"/>
<rect x="468.87" y="118.15" width="3.98" height="4.1" fill="#edf5ea"/>
<rect x="473.55" y="118.15" width="3.98" height="4.1" fill="#edf5ea"/>
<rect x="478.23" y="118.15" width="3.98" height="4.1" fill="#45b35a"/>
<rect x="482.91" y="118.15" width="3.98" height="4.1" fill="#edf5ea"/>
<rect x="487.59" y="118.15" width="3.98" height="4.1" fill="#edf5ea"/>
<rect x="492.27" y="118.15" width="3.98" height="4.1" fill="#edf5ea"/>
<text x="499.7" y="121.56" font-size="5" stroke="#231f20" stroke-width="0.06" font-style="italic">AMER1</text>
<rect x="389.31" y="122.95" width="3.98" height="4.1" fill="#45b35a"/>
<rect x="393.99" y="122.95" width="3.98" height="4.1" fill="#edf5ea"/>
<rect x="398.67" y="122.95" width="3.98" height="4.1" fill="#45b35a"/>
<rect x="403.35" y="122.95" width="3.98" height="4.1" fill="#45b35a"/>
<rect x="408.03" y="122.95" width="3.98" height="4.1" fill="#edf5ea"/>
<rect x="412.71" y="122.95" width="3.98" height="4.1" fill="#45b35a"/>
<rect x="417.39" y="122.95" width="3.98" height="4.1" fill="#edf5ea"/>
<rect x="422.07" y="122.95" width="3.98" height="4.1" fill="#edf5ea"/>
<rect x="426.75" y="122.95" width="3.98" height="4.1" fill="#45b35a"/>
<rect x="431.43" y="122.95" width="3.98" height="4.1" fill="#edf5ea"/>
<rect x="436.11" y="122.95" width="3.98" height="4.1" fill="#45b35a"/>
<rect x="440.79" y="122.95" width="3.98" height="4.1" fill="#45b35a"/>
<rect x="445.47" y="122.95" width="3.98" height="4.1" fill="#45b35a"/>
<rect x="450.15" y="122.95" width="3.98" height="4.1" fill="#edf5ea"/>
<rect x="454.83" y="122.95" width="3.98" height="4.1" fill="#edf5ea"/>
<rect x="459.51" y="122.95" width="3.98" height="4.1" fill="#45b35a"/>
<rect x="464.19" y="122.95" width="3.98" height="4.1" fill="#edf5ea"/>
<rect x="468.87" y="122.95" width="3.98" height="4.1" fill="#edf5ea"/>
<rect x="473.55" y="122.95" width="3.98" height="4.1" fill="#edf5ea"/>
<rect x="478.23" y="122.95" width="3.98" height="4.1" fill="#45b35a"/>
<rect x="482.91" y="122.95" width="3.98" height="4.1" fill="#edf5ea"/>
<rect x="487.59" y="122.95" width="3.98" height="4.1" fill="#edf5ea"/>
<rect x="492.27" y="122.95" width="3.98" height="4.1" fill="#edf5ea"/>
<text x="499.7" y="126.49" font-size="5" stroke="#231f20" stroke-width="0.06" font-style="italic">SMAD4</text>
<rect x="389.31" y="127.75" width="3.98" height="4.1" fill="#edf5ea"/>
<rect x="393.99" y="127.75" width="3.98" height="4.1" fill="#edf5ea"/>
<rect x="398.67" y="127.75" width="3.98" height="4.1" fill="#edf5ea"/>
<rect x="403.35" y="127.75" width="3.98" height="4.1" fill="#edf5ea"/>
<rect x="408.03" y="127.75" width="3.98" height="4.1" fill="#45b35a"/>
<rect x="412.71" y="127.75" width="3.98" height="4.1" fill="#edf5ea"/>
<rect x="417.39" y="127.75" width="3.98" height="4.1" fill="#edf5ea"/>
<rect x="422.07" y="127.75" width="3.98" height="4.1" fill="#edf5ea"/>
<rect x="426.75" y="127.75" width="3.98" height="4.1" fill="#edf5ea"/>
<rect x="431.43" y="127.75" width="3.98" height="4.1" fill="#45b35a"/>
<rect x="436.11" y="127.75" width="3.98" height="4.1" fill="#45b35a"/>
<rect x="440.79" y="127.75" width="3.98" height="4.1" fill="#edf5ea"/>
<rect x="445.47" y="127.75" width="3.98" height="4.1" fill="#edf5ea"/>
<rect x="450.15" y="127.75" width="3.98" height="4.1" fill="#edf5ea"/>
<rect x="454.83" y="127.75" width="3.98" height="4.1" fill="#edf5ea"/>
<rect x="459.51" y="127.75" width="3.98" height="4.1" fill="#edf5ea"/>
<rect x="464.19" y="127.75" width="3.98" height="4.1" fill="#edf5ea"/>
<rect x="468.87" y="127.75" width="3.98" height="4.1" fill="#edf5ea"/>
<rect x="473.55" y="127.75" width="3.98" height="4.1" fill="#edf5ea"/>
<rect x="478.23" y="127.75" width="3.98" height="4.1" fill="#edf5ea"/>
<rect x="482.91" y="127.75" width="3.98" height="4.1" fill="#45b35a"/>
<rect x="487.59" y="127.75" width="3.98" height="4.1" fill="#edf5ea"/>
<rect x="492.27" y="127.75" width="3.98" height="4.1" fill="#45b35a"/>
<text x="499.7" y="131.42" font-size="5" stroke="#231f20" stroke-width="0.06" font-style="italic">PIK3CA</text>
<text x="393.26" y="133.4" font-size="5.6" text-anchor="end" stroke="#222" stroke-width="0.06" fill="#222" transform="rotate(-90 393.26 133.4)">CR2545</text>
<text x="397.94" y="133.4" font-size="5.6" text-anchor="end" stroke="#222" stroke-width="0.06" fill="#222" transform="rotate(-90 397.94 133.4)">CTG-0784</text>
<text x="402.62" y="133.4" font-size="5.6" text-anchor="end" stroke="#222" stroke-width="0.06" fill="#222" transform="rotate(-90 402.62 133.4)">CR0029</text>
<text x="407.3" y="133.4" font-size="5.6" text-anchor="end" stroke="#222" stroke-width="0.06" fill="#222" transform="rotate(-90 407.3 133.4)">CR3056</text>
<text x="411.98" y="133.4" font-size="5.6" text-anchor="end" stroke="#222" stroke-width="0.06" fill="#222" transform="rotate(-90 411.98 133.4)">CR2110</text>
<text x="416.66" y="133.4" font-size="5.6" text-anchor="end" stroke="#222" stroke-width="0.06" fill="#222" transform="rotate(-90 416.66 133.4)">CR1560</text>
<text x="421.34" y="133.4" font-size="5.6" text-anchor="end" stroke="#222" stroke-width="0.06" fill="#222" transform="rotate(-90 421.34 133.4)">CTG-1059</text>
<text x="426.02" y="133.4" font-size="5.6" text-anchor="end" stroke="#222" stroke-width="0.06" fill="#222" transform="rotate(-90 426.02 133.4)">CR5048</text>
<text x="430.7" y="133.4" font-size="5.6" text-anchor="end" stroke="#222" stroke-width="0.06" fill="#222" transform="rotate(-90 430.7 133.4)">CR2506</text>
<text x="435.38" y="133.4" font-size="5.6" text-anchor="end" stroke="#222" stroke-width="0.06" fill="#222" transform="rotate(-90 435.38 133.4)">CR1952</text>
<text x="440.06" y="133.4" font-size="5.6" text-anchor="end" stroke="#222" stroke-width="0.06" fill="#222" transform="rotate(-90 440.06 133.4)">CR2545</text>
<text x="444.74" y="133.4" font-size="5.6" text-anchor="end" stroke="#222" stroke-width="0.06" fill="#222" transform="rotate(-90 444.74 133.4)">CR3009</text>
<text x="449.42" y="133.4" font-size="5.6" text-anchor="end" stroke="#222" stroke-width="0.06" fill="#222" transform="rotate(-90 449.42 133.4)">CR0196</text>
<text x="454.1" y="133.4" font-size="5.6" text-anchor="end" stroke="#222" stroke-width="0.06" fill="#222" transform="rotate(-90 454.1 133.4)">CR2215</text>
<text x="458.78" y="133.4" font-size="5.6" text-anchor="end" stroke="#222" stroke-width="0.06" fill="#222" transform="rotate(-90 458.78 133.4)">CTG-1116</text>
<text x="463.46" y="133.4" font-size="5.6" text-anchor="end" stroke="#222" stroke-width="0.06" fill="#222" transform="rotate(-90 463.46 133.4)">CR1243</text>
<text x="468.14" y="133.4" font-size="5.6" text-anchor="end" stroke="#222" stroke-width="0.06" fill="#222" transform="rotate(-90 468.14 133.4)">CR2247</text>
<text x="472.82" y="133.4" font-size="5.6" text-anchor="end" stroke="#222" stroke-width="0.06" fill="#222" transform="rotate(-90 472.82 133.4)">SW620</text>
<text x="477.5" y="133.4" font-size="5.6" text-anchor="end" stroke="#222" stroke-width="0.06" fill="#222" transform="rotate(-90 477.5 133.4)">CR0065</text>
<text x="482.18" y="133.4" font-size="5.6" text-anchor="end" stroke="#222" stroke-width="0.06" fill="#222" transform="rotate(-90 482.18 133.4)">CR1163</text>
<text x="486.86" y="133.4" font-size="5.6" text-anchor="end" stroke="#222" stroke-width="0.06" fill="#222" transform="rotate(-90 486.86 133.4)">SW403</text>
<text x="491.54" y="133.4" font-size="5.6" text-anchor="end" stroke="#222" stroke-width="0.06" fill="#222" transform="rotate(-90 491.54 133.4)">CR5055</text>
<text x="496.22" y="133.4" font-size="5.6" text-anchor="end" stroke="#222" stroke-width="0.06" fill="#222" transform="rotate(-90 496.22 133.4)">CRC1026</text>
<text x="1.3" y="9" font-size="10.6" font-weight="bold" stroke="#231f20" stroke-width="0.35">A</text>
<text x="195.6" y="9" font-size="10.6" font-weight="bold" stroke="#231f20" stroke-width="0.35">B</text>
<text x="368.9" y="9" font-size="10.6" font-weight="bold" stroke="#231f20" stroke-width="0.35">C</text>
<text x="108" y="16.6" font-size="7.6" text-anchor="middle" stroke="#231f20">NSCLC models</text>
<text x="287" y="16.6" font-size="7.6" text-anchor="middle" stroke="#231f20">PDAC models</text>
<text x="441.5" y="16.6" font-size="7.6" text-anchor="middle" stroke="#231f20">CRC models</text>
<text x="6.9" y="62.5" font-size="7.1" text-anchor="middle" stroke="#231f20" transform="rotate(-90 6.9 62.5)">Mean tumor volume</text>
<text x="14.4" y="62.5" font-size="7.1" text-anchor="middle" stroke="#231f20" transform="rotate(-90 14.4 62.5)">% Change from baseline</text>
<rect x="140.2" y="30.9" width="6" height="3.6" fill="#4db85f"/>
<text x="149.7" y="34.9" font-size="6.2" font-style="italic" stroke="#231f20">KRAS<tspan font-size="4.34" dy="-2.6" font-style="normal" stroke-width="0.08">G12D</tspan></text>
<rect x="140.2" y="38.8" width="6" height="3.6" fill="#1f6b56"/>
<text x="149.7" y="42.8" font-size="6.2" font-style="italic" stroke="#231f20">KRAS<tspan font-size="4.34" dy="-2.6" font-style="normal" stroke-width="0.08">G12V</tspan></text>
<rect x="140.2" y="46.7" width="6" height="3.6" fill="#0d3a30"/>
<text x="149.7" y="50.7" font-size="6.2" font-style="italic" stroke="#231f20">KRAS<tspan font-size="4.34" dy="-2.6" font-style="normal" stroke-width="0.08">G12C</tspan></text>
<rect x="140.2" y="54.6" width="6" height="3.6" fill="#a9dbd1"/>
<text x="149.7" y="58.6" font-size="6.2" font-style="italic" stroke="#231f20">KRAS<tspan font-size="4.34" dy="-2.6" font-style="normal" stroke-width="0.08">G12A</tspan></text>
<rect x="140.2" y="62.5" width="6" height="3.6" fill="#4d4d8f"/>
<text x="149.7" y="66.5" font-size="6.2" font-style="italic" stroke="#231f20">KRAS<tspan font-size="4.34" dy="-2.6" font-style="normal" stroke-width="0.08">G12R</tspan></text>
<rect x="311.9" y="33" width="6" height="3.6" fill="#4db85f"/>
<text x="320.2" y="37" font-size="6.2" font-style="italic" stroke="#231f20">KRAS<tspan font-size="4.34" dy="-2.6" font-style="normal" stroke-width="0.08">G12D</tspan></text>
<rect x="311.9" y="40.55" width="6" height="3.6" fill="#1f6b56"/>
<text x="320.2" y="44.55" font-size="6.2" font-style="italic" stroke="#231f20">KRAS<tspan font-size="4.34" dy="-2.6" font-style="normal" stroke-width="0.08">G12V</tspan></text>
<rect x="311.9" y="48.1" width="6" height="3.6" fill="#0d3a30"/>
<text x="320.2" y="52.1" font-size="6.2" font-style="italic" stroke="#231f20">KRAS<tspan font-size="4.34" dy="-2.6" font-style="normal" stroke-width="0.08">G12C</tspan></text>
<rect x="311.9" y="55.65" width="6" height="3.6" fill="#9393c9"/>
<text x="320.2" y="59.65" font-size="6.2" font-style="italic" stroke="#231f20">KRAS<tspan font-size="4.34" dy="-2.6" font-style="normal" stroke-width="0.08">G12R</tspan></text>
<rect x="463.4" y="34" width="6" height="3.6" fill="#4db85f"/>
<text x="471.5" y="38" font-size="6.35" font-style="italic" stroke="#231f20">KRAS<tspan font-size="4.44" dy="-2.67" font-style="normal" stroke-width="0.08">G12D</tspan></text>
<rect x="463.4" y="41.63" width="6" height="3.6" fill="#1f6b56"/>
<text x="471.5" y="45.63" font-size="6.35" font-style="italic" stroke="#231f20">KRAS<tspan font-size="4.44" dy="-2.67" font-style="normal" stroke-width="0.08">G12V</tspan></text>
<rect x="463.4" y="49.26" width="6" height="3.6" fill="#0d3a30"/>
<text x="471.5" y="53.26" font-size="6.35" font-style="italic" stroke="#231f20">KRAS<tspan font-size="4.44" dy="-2.67" font-style="normal" stroke-width="0.08">G12C</tspan></text>
<rect x="463.4" y="56.89" width="6" height="3.6" fill="#a9dbd1"/>
<text x="471.5" y="60.89" font-size="6.35" font-style="italic" stroke="#231f20">KRAS<tspan font-size="4.44" dy="-2.67" font-style="normal" stroke-width="0.08">G12A</tspan></text>
<line x1="39.5" y1="238.2" x2="160.6" y2="238.2" stroke="#333" stroke-width="0.7" stroke-dasharray="1,1.4"/>
<path d="M39.5,197.9 H42.73 V202.33 H43.27 V206.44 H44.34 V209.59 H45.96 V211.6 H47.44 V220.87 H48.92 V245.45 H52.55 V247.87 H53.36 V259.72 H54.57 V262.78 H56.05 V264.88 H57.8 V268.02 H59.95 V270.04 H63.05 V272.05 H68.97 V273.1 H74.48 V274.47 H81.21 V275.68 H90.63 V276.49 H97.76 V277.21 H101.8 V278.5 H101.4" stroke="#231f20" stroke-width="1.05" fill="none"/>
<path d="M39.5,197.9 H44.88 V199.51 H54.3 V201.45 H66.41 V203.54 H77.18 V204.35 H96.01 V206.77 H98.7 V208.38 H102.74 V210.8 H110.81 V212.73 H121.58 V215.63 H128.31 V216.84 H128.98 V222.08 H136.38 V225.3 H140.42 V226.92 H144.45 V230.14 H149.84 V232.16 H153.87 V234.17 H160.6" stroke="#2a5f45" stroke-width="1.05" fill="none"/>
<line x1="39.5" y1="197.5" x2="39.5" y2="278.9" stroke="#231f20" stroke-width="0.9"/>
<line x1="39.5" y1="278.5" x2="161" y2="278.5" stroke="#231f20" stroke-width="0.9"/>
<line x1="36.7" y1="278.5" x2="39.5" y2="278.5" stroke="#231f20" stroke-width="0.9"/>
<text x="33.2" y="280.9" font-size="6.6" text-anchor="end" stroke="#231f20">0</text>
<line x1="36.7" y1="258.35" x2="39.5" y2="258.35" stroke="#231f20" stroke-width="0.9"/>
<text x="33.2" y="260.75" font-size="6.6" text-anchor="end" stroke="#231f20">25</text>
<line x1="36.7" y1="238.2" x2="39.5" y2="238.2" stroke="#231f20" stroke-width="0.9"/>
<text x="33.2" y="240.6" font-size="6.6" text-anchor="end" stroke="#231f20">50</text>
<line x1="36.7" y1="218.05" x2="39.5" y2="218.05" stroke="#231f20" stroke-width="0.9"/>
<text x="33.2" y="220.45" font-size="6.6" text-anchor="end" stroke="#231f20">75</text>
<line x1="36.7" y1="197.9" x2="39.5" y2="197.9" stroke="#231f20" stroke-width="0.9"/>
<text x="33.2" y="200.3" font-size="6.6" text-anchor="end" stroke="#231f20">100</text>
<line x1="39.5" y1="278.5" x2="39.5" y2="281.1" stroke="#231f20" stroke-width="0.9"/>
<text x="39.5" y="290.5" font-size="7" text-anchor="middle" stroke="#231f20">0</text>
<line x1="79.87" y1="278.5" x2="79.87" y2="281.1" stroke="#231f20" stroke-width="0.9"/>
<text x="79.87" y="290.5" font-size="7" text-anchor="middle" stroke="#231f20">30</text>
<line x1="120.23" y1="278.5" x2="120.23" y2="281.1" stroke="#231f20" stroke-width="0.9"/>
<text x="120.23" y="290.5" font-size="7" text-anchor="middle" stroke="#231f20">60</text>
<line x1="160.6" y1="278.5" x2="160.6" y2="281.1" stroke="#231f20" stroke-width="0.9"/>
<text x="160.6" y="290.5" font-size="7" text-anchor="middle" stroke="#231f20">90</text>
<text x="100.05" y="300.8" font-size="7.5" text-anchor="middle" stroke="#231f20">Days on treatment</text>
<text x="9.8" y="238.2" font-size="7.5" text-anchor="middle" stroke="#231f20" transform="rotate(-90 9.8 238.2)">% Tumors</text>
<text x="18.4" y="238.2" font-size="7.5" text-anchor="middle" stroke="#231f20" transform="rotate(-90 18.4 238.2)">progression-free</text>
<text x="87.4" y="202.4" font-size="7.6" stroke="#3a6750" fill="#3a6750">Median not reached</text>
<text x="86.5" y="274.2" font-size="7.6" stroke="#231f20">Median = 7 d</text>
<text x="1.4" y="180.8" font-size="10.6" font-weight="bold" stroke="#231f20" stroke-width="0.35">D</text>
<text x="104" y="186" font-size="7.6" text-anchor="middle" stroke="#231f20">NSCLC models</text>
<line x1="213.4" y1="238.4" x2="334.2" y2="238.4" stroke="#333" stroke-width="0.7" stroke-dasharray="1,1.4"/>
<path d="M213.4,198.2 H217.43 V204.87 H219.44 V211.06 H222.53 V212.99 H223.06 V229.56 H224.81 V237.84 H225.75 V242.82 H227.49 V247.73 H229.51 V252.07 H231.52 V261.88 H233.94 V265.98 H236.08 V267.99 H238.1 V270.08 H240.11 V271.69 H242.12 V273.13 H244.27 V274.58 H246.28 V275.79 H249.24 V277.23 H253.4 V278.6 H255.01" stroke="#231f20" stroke-width="1.05" fill="none"/>
<path d="M213.4,198.2 H245.61 V200.21 H253.67 V201.74 H260.38 V203.43 H273.8 V207.04 H277.83 V208.97 H281.85 V210.42 H335.54" stroke="#2a5f45" stroke-width="1.05" fill="none"/>
<line x1="286.55" y1="210.42" x2="286.55" y2="208.82" stroke="#2a5f45" stroke-width="0.6"/>
<line x1="290.58" y1="210.42" x2="290.58" y2="208.82" stroke="#2a5f45" stroke-width="0.6"/>
<line x1="294.6" y1="210.42" x2="294.6" y2="208.82" stroke="#2a5f45" stroke-width="0.6"/>
<line x1="306.68" y1="210.42" x2="306.68" y2="208.82" stroke="#2a5f45" stroke-width="0.6"/>
<line x1="310.71" y1="210.42" x2="310.71" y2="208.82" stroke="#2a5f45" stroke-width="0.6"/>
<line x1="332.19" y1="210.42" x2="332.19" y2="208.82" stroke="#2a5f45" stroke-width="0.6"/>
<line x1="264.4" y1="203.43" x2="264.4" y2="201.83" stroke="#2a5f45" stroke-width="0.6"/>
<line x1="268.43" y1="203.43" x2="268.43" y2="201.83" stroke="#2a5f45" stroke-width="0.6"/>
<line x1="213.4" y1="197.8" x2="213.4" y2="279" stroke="#231f20" stroke-width="0.9"/>
<line x1="213.4" y1="278.6" x2="334.6" y2="278.6" stroke="#231f20" stroke-width="0.9"/>
<line x1="210.6" y1="278.6" x2="213.4" y2="278.6" stroke="#231f20" stroke-width="0.9"/>
<text x="207.1" y="281" font-size="6.6" text-anchor="end" stroke="#231f20">0</text>
<line x1="210.6" y1="258.5" x2="213.4" y2="258.5" stroke="#231f20" stroke-width="0.9"/>
<text x="207.1" y="260.9" font-size="6.6" text-anchor="end" stroke="#231f20">25</text>
<line x1="210.6" y1="238.4" x2="213.4" y2="238.4" stroke="#231f20" stroke-width="0.9"/>
<text x="207.1" y="240.8" font-size="6.6" text-anchor="end" stroke="#231f20">50</text>
<line x1="210.6" y1="218.3" x2="213.4" y2="218.3" stroke="#231f20" stroke-width="0.9"/>
<text x="207.1" y="220.7" font-size="6.6" text-anchor="end" stroke="#231f20">75</text>
<line x1="210.6" y1="198.2" x2="213.4" y2="198.2" stroke="#231f20" stroke-width="0.9"/>
<text x="207.1" y="200.6" font-size="6.6" text-anchor="end" stroke="#231f20">100</text>
<line x1="213.4" y1="278.6" x2="213.4" y2="281.2" stroke="#231f20" stroke-width="0.9"/>
<text x="213.4" y="290.6" font-size="7" text-anchor="middle" stroke="#231f20">0</text>
<line x1="253.67" y1="278.6" x2="253.67" y2="281.2" stroke="#231f20" stroke-width="0.9"/>
<text x="253.67" y="290.6" font-size="7" text-anchor="middle" stroke="#231f20">30</text>
<line x1="293.93" y1="278.6" x2="293.93" y2="281.2" stroke="#231f20" stroke-width="0.9"/>
<text x="293.93" y="290.6" font-size="7" text-anchor="middle" stroke="#231f20">60</text>
<line x1="334.2" y1="278.6" x2="334.2" y2="281.2" stroke="#231f20" stroke-width="0.9"/>
<text x="334.2" y="290.6" font-size="7" text-anchor="middle" stroke="#231f20">90</text>
<text x="273.8" y="302.2" font-size="7.5" text-anchor="middle" stroke="#231f20">Days on treatment</text>
<text x="181.7" y="238.4" font-size="7.5" text-anchor="middle" stroke="#231f20" transform="rotate(-90 181.7 238.4)">% Tumors</text>
<text x="190.3" y="238.4" font-size="7.5" text-anchor="middle" stroke="#231f20" transform="rotate(-90 190.3 238.4)">progression-free</text>
<text x="268.4" y="199.6" font-size="7.6" stroke="#3a6750" fill="#3a6750">Median not reached</text>
<text x="259.8" y="274.2" font-size="7.6" stroke="#231f20">Median = 9 d</text>
<text x="180.8" y="180.8" font-size="10.6" font-weight="bold" stroke="#231f20" stroke-width="0.35">E</text>
<text x="273.6" y="186" font-size="7.6" text-anchor="middle" stroke="#231f20">PDAC models</text>
<line x1="385.4" y1="238.85" x2="512" y2="238.85" stroke="#333" stroke-width="0.7" stroke-dasharray="1,1.4"/>
<path d="M385.4,196.9 H390.46 V204.03 H391.73 V210.32 H393.14 V213.68 H393.84 V221.23 H395.25 V224.59 H396.65 V230.46 H398.06 V233.82 H398.76 V240.53 H402.28 V243.88 H405.09 V247.24 H407.91 V251.44 H409.31 V257.31 H412.13 V262.34 H413.53 V269.05 H414.94 V275.35 H416.35 V279.96 H423.38 V280.8 H423.38" stroke="#231f20" stroke-width="1.05" fill="none"/>
<path d="M385.4,196.9 H396.65 V199.67 H400.87 V201.93 H406.5 V204.03 H410.72 V206.13 H413.53 V209.49 H417.75 V213.68 H420.57 V215.36 H426.19 V217.04 H433.23 V220.39 H437.45 V224.59 H441.67 V227.94 H445.89 V231.3 H450.11 V233.82 H454.33 V235.49 H457.14 V236.33 H462.77 V238.26 H468.39 V239.86 H474.02 V241.37 H482.46 V242.63 H486.68 V243.88 H499.34 V245.56 H512" stroke="#2a5f45" stroke-width="1.05" fill="none"/>
<line x1="385.4" y1="196.5" x2="385.4" y2="281.2" stroke="#231f20" stroke-width="0.9"/>
<line x1="385.4" y1="280.8" x2="512.4" y2="280.8" stroke="#231f20" stroke-width="0.9"/>
<line x1="382.6" y1="280.8" x2="385.4" y2="280.8" stroke="#231f20" stroke-width="0.9"/>
<text x="379.1" y="283.2" font-size="6.6" text-anchor="end" stroke="#231f20">0</text>
<line x1="382.6" y1="259.82" x2="385.4" y2="259.82" stroke="#231f20" stroke-width="0.9"/>
<text x="379.1" y="262.22" font-size="6.6" text-anchor="end" stroke="#231f20">25</text>
<line x1="382.6" y1="238.85" x2="385.4" y2="238.85" stroke="#231f20" stroke-width="0.9"/>
<text x="379.1" y="241.25" font-size="6.6" text-anchor="end" stroke="#231f20">50</text>
<line x1="382.6" y1="217.88" x2="385.4" y2="217.88" stroke="#231f20" stroke-width="0.9"/>
<text x="379.1" y="220.28" font-size="6.6" text-anchor="end" stroke="#231f20">75</text>
<line x1="382.6" y1="196.9" x2="385.4" y2="196.9" stroke="#231f20" stroke-width="0.9"/>
<text x="379.1" y="199.3" font-size="6.6" text-anchor="end" stroke="#231f20">100</text>
<line x1="385.4" y1="280.8" x2="385.4" y2="283.4" stroke="#231f20" stroke-width="0.9"/>
<text x="385.4" y="292.8" font-size="7" text-anchor="middle" stroke="#231f20">0</text>
<line x1="427.6" y1="280.8" x2="427.6" y2="283.4" stroke="#231f20" stroke-width="0.9"/>
<text x="427.6" y="292.8" font-size="7" text-anchor="middle" stroke="#231f20">30</text>
<line x1="469.8" y1="280.8" x2="469.8" y2="283.4" stroke="#231f20" stroke-width="0.9"/>
<text x="469.8" y="292.8" font-size="7" text-anchor="middle" stroke="#231f20">60</text>
<line x1="512" y1="280.8" x2="512" y2="283.4" stroke="#231f20" stroke-width="0.9"/>
<text x="512" y="292.8" font-size="7" text-anchor="middle" stroke="#231f20">90</text>
<text x="449.7" y="300.4" font-size="7.5" text-anchor="middle" stroke="#231f20">Days on treatment</text>
<text x="357.2" y="238.85" font-size="7.5" text-anchor="middle" stroke="#231f20" transform="rotate(-90 357.2 238.85)">% Tumors</text>
<text x="365.8" y="238.85" font-size="7.5" text-anchor="middle" stroke="#231f20" transform="rotate(-90 365.8 238.85)">progression-free</text>
<text x="460.5" y="234.6" font-size="7.6" stroke="#3a6750" fill="#3a6750">Median = 60 d</text>
<text x="426" y="274.6" font-size="7.6" stroke="#231f20">Median = 10 d</text>
<text x="355.7" y="180.8" font-size="10.6" font-weight="bold" stroke="#231f20" stroke-width="0.35">F</text>
<text x="447.7" y="186" font-size="7.6" text-anchor="middle" stroke="#231f20">CRC models</text>
<line x1="211.3" y1="388.2" x2="327.5" y2="388.2" stroke="#333" stroke-width="0.7" stroke-dasharray="1,1.4"/>
<path d="M211.3,349.8 H216.46 V369 H219.69 V372.07 H220.73 V385.9 H224.21 V392.04 H225.5 V395.11 H227.44 V400.49 H228.08 V411.62 H230.67 V415.08 H234.54 V417 H242.29 V418.92 H246.16 V420.07 H248.1 V423.53 H251.32 V426.6 H253.91" stroke="#231f20" stroke-width="1.05" fill="none"/>
<path d="M211.3,349.8 H294.45 V353.33 H299.1 V357.86 H326.6 V363.62 H327.5" stroke="#2a5f45" stroke-width="1.05" fill="none"/>
<line x1="248.1" y1="349.8" x2="248.1" y2="348.2" stroke="#2a5f45" stroke-width="0.6"/>
<line x1="273.27" y1="349.8" x2="273.27" y2="348.2" stroke="#2a5f45" stroke-width="0.6"/>
<line x1="279.73" y1="349.8" x2="279.73" y2="348.2" stroke="#2a5f45" stroke-width="0.6"/>
<line x1="287.48" y1="349.8" x2="287.48" y2="348.2" stroke="#2a5f45" stroke-width="0.6"/>
<line x1="308.13" y1="357.86" x2="308.13" y2="356.26" stroke="#2a5f45" stroke-width="0.6"/>
<line x1="319.75" y1="357.86" x2="319.75" y2="356.26" stroke="#2a5f45" stroke-width="0.6"/>
<line x1="211.3" y1="349.4" x2="211.3" y2="427" stroke="#231f20" stroke-width="0.9"/>
<line x1="211.3" y1="426.6" x2="327.9" y2="426.6" stroke="#231f20" stroke-width="0.9"/>
<line x1="208.5" y1="426.6" x2="211.3" y2="426.6" stroke="#231f20" stroke-width="0.9"/>
<text x="205" y="429" font-size="6.6" text-anchor="end" stroke="#231f20">0</text>
<line x1="208.5" y1="407.4" x2="211.3" y2="407.4" stroke="#231f20" stroke-width="0.9"/>
<text x="205" y="409.8" font-size="6.6" text-anchor="end" stroke="#231f20">25</text>
<line x1="208.5" y1="388.2" x2="211.3" y2="388.2" stroke="#231f20" stroke-width="0.9"/>
<text x="205" y="390.6" font-size="6.6" text-anchor="end" stroke="#231f20">50</text>
<line x1="208.5" y1="369" x2="211.3" y2="369" stroke="#231f20" stroke-width="0.9"/>
<text x="205" y="371.4" font-size="6.6" text-anchor="end" stroke="#231f20">75</text>
<line x1="208.5" y1="349.8" x2="211.3" y2="349.8" stroke="#231f20" stroke-width="0.9"/>
<text x="205" y="352.2" font-size="6.6" text-anchor="end" stroke="#231f20">100</text>
<line x1="211.3" y1="426.6" x2="211.3" y2="429.2" stroke="#231f20" stroke-width="0.9"/>
<text x="211.3" y="437.4" font-size="7" text-anchor="middle" stroke="#231f20">0</text>
<line x1="250.03" y1="426.6" x2="250.03" y2="429.2" stroke="#231f20" stroke-width="0.9"/>
<text x="250.03" y="437.4" font-size="7" text-anchor="middle" stroke="#231f20">30</text>
<line x1="288.77" y1="426.6" x2="288.77" y2="429.2" stroke="#231f20" stroke-width="0.9"/>
<text x="288.77" y="437.4" font-size="7" text-anchor="middle" stroke="#231f20">60</text>
<line x1="327.5" y1="426.6" x2="327.5" y2="429.2" stroke="#231f20" stroke-width="0.9"/>
<text x="327.5" y="437.4" font-size="7" text-anchor="middle" stroke="#231f20">90</text>
<text x="269.4" y="445.2" font-size="7.5" text-anchor="middle" stroke="#231f20">Days on treatment</text>
<text x="182.5" y="388.2" font-size="7.5" text-anchor="middle" stroke="#231f20" transform="rotate(-90 182.5 388.2)">% Tumors</text>
<text x="191.1" y="388.2" font-size="7.5" text-anchor="middle" stroke="#231f20" transform="rotate(-90 191.1 388.2)">progression-free</text>
<text x="264.8" y="346" font-size="7.6" stroke="#3a6750" fill="#3a6750">Median not reached</text>
<text x="241.2" y="411.8" font-size="7.6" stroke="#231f20">Median = 10 d</text>
<line x1="221.6" y1="455.3" x2="231" y2="455.3" stroke="#231f20" stroke-width="1.6"/>
<text x="233.2" y="458" font-size="7.6" stroke="#231f20">Control</text>
<line x1="271.3" y1="455.3" x2="280.5" y2="455.3" stroke="#2a5f45" stroke-width="1.1"/>
<text x="283.2" y="458" font-size="7.6" stroke="#231f20">RMC-6236</text>
<line x1="221.3" y1="314.3" x2="232.5" y2="314.3" stroke="#231f20" stroke-width="1.6"/>
<text x="234.3" y="317" font-size="7.6" stroke="#231f20">Control</text>
<line x1="281.3" y1="314.3" x2="291.5" y2="314.3" stroke="#2a5f45" stroke-width="1.1"/>
<text x="294.3" y="317" font-size="7.6" stroke="#231f20">RMC-6236</text>
<text x="0.9" y="339.4" font-size="10.6" font-weight="bold" stroke="#231f20" stroke-width="0.35">G</text>
<text x="7" y="392.5" font-size="7.65" text-anchor="middle" stroke="#231f20" transform="rotate(-90 7 392.5)">Mean tumor volume</text>
<text x="16" y="392.5" font-size="7.65" text-anchor="middle" stroke="#231f20" transform="rotate(-90 16 392.5)">% Change from baseline</text>
<line x1="41.5" y1="380.07" x2="148.7" y2="380.07" stroke="#333" stroke-width="0.7" stroke-dasharray="2,1.6"/>
<line x1="41.5" y1="400.53" x2="148.7" y2="400.53" stroke="#222" stroke-width="0.8" stroke-dasharray="2,1.6"/>
<line x1="41.5" y1="417.58" x2="148.7" y2="417.58" stroke="#222" stroke-width="0.8" stroke-dasharray="2,1.6"/>
<line x1="93" y1="354.6" x2="93" y2="424.2" stroke="#111" stroke-width="0.9" stroke-dasharray="1.8,1.4"/>
<rect x="46.6" y="390.3" width="8.8" height="12.28" fill="#4db85f"/>
<line x1="51" y1="402.58" x2="51" y2="403.94" stroke="#aadcb4" stroke-width="0.5"/>
<line x1="49.5" y1="403.94" x2="52.5" y2="403.94" stroke="#aadcb4" stroke-width="0.5"/>
<text x="53.9" y="427.6" font-size="7.3" text-anchor="end" stroke="#231f20" transform="rotate(-90 53.9 427.6)">STO447</text>
<rect x="58.53" y="390.3" width="8.8" height="15" fill="#4db85f"/>
<line x1="62.93" y1="405.3" x2="62.93" y2="406.67" stroke="#aadcb4" stroke-width="0.5"/>
<line x1="61.43" y1="406.67" x2="64.43" y2="406.67" stroke="#aadcb4" stroke-width="0.5"/>
<text x="65.83" y="427.6" font-size="7.3" text-anchor="end" stroke="#231f20" transform="rotate(-90 65.83 427.6)">STO247</text>
<rect x="70.46" y="390.3" width="8.8" height="19.78" fill="#4db85f"/>
<line x1="74.86" y1="410.08" x2="74.86" y2="411.44" stroke="#aadcb4" stroke-width="0.5"/>
<line x1="73.36" y1="411.44" x2="76.36" y2="411.44" stroke="#aadcb4" stroke-width="0.5"/>
<text x="77.76" y="427.6" font-size="7.3" text-anchor="end" stroke="#231f20" transform="rotate(-90 77.76 427.6)">STO597</text>
<rect x="82.39" y="390.3" width="8.8" height="25.92" fill="#4db85f"/>
<line x1="86.79" y1="416.22" x2="86.79" y2="418.26" stroke="#aadcb4" stroke-width="0.5"/>
<line x1="85.29" y1="418.26" x2="88.29" y2="418.26" stroke="#aadcb4" stroke-width="0.5"/>
<text x="89.69" y="427.6" font-size="7.3" text-anchor="end" stroke="#231f20" transform="rotate(-90 89.69 427.6)">AGS</text>
<rect x="94.32" y="388.6" width="8.8" height="1.7" fill="#4db85f"/>
<line x1="98.72" y1="388.6" x2="98.72" y2="386.21" stroke="#aadcb4" stroke-width="0.5"/>
<line x1="97.22" y1="386.21" x2="100.22" y2="386.21" stroke="#aadcb4" stroke-width="0.5"/>
<text x="101.62" y="427.6" font-size="7.3" text-anchor="end" stroke="#231f20" transform="rotate(-90 101.62 427.6)">CTG-0868</text>
<rect x="106.25" y="390.3" width="8.8" height="6.82" fill="#1f6b56"/>
<line x1="110.65" y1="397.12" x2="110.65" y2="400.53" stroke="#9ac" stroke-width="0.5"/>
<line x1="109.15" y1="400.53" x2="112.15" y2="400.53" stroke="#9ac" stroke-width="0.5"/>
<text x="113.55" y="427.6" font-size="7.3" text-anchor="end" stroke="#231f20" transform="rotate(-90 113.55 427.6)">OVCAR-5</text>
<rect x="118.18" y="390.3" width="8.8" height="15.35" fill="#1b6049"/>
<line x1="122.58" y1="405.65" x2="122.58" y2="422.69" stroke="#9ac" stroke-width="0.5"/>
<line x1="121.08" y1="422.69" x2="124.08" y2="422.69" stroke="#9ac" stroke-width="0.5"/>
<text x="125.48" y="427.6" font-size="7.3" text-anchor="end" stroke="#231f20" transform="rotate(-90 125.48 427.6)">ST4661</text>
<rect x="130.11" y="390.3" width="8.8" height="16.37" fill="#4db85f"/>
<line x1="134.51" y1="406.67" x2="134.51" y2="416.9" stroke="#aadcb4" stroke-width="0.5"/>
<line x1="133.01" y1="416.9" x2="136.01" y2="416.9" stroke="#aadcb4" stroke-width="0.5"/>
<text x="137.41" y="427.6" font-size="7.3" text-anchor="end" stroke="#231f20" transform="rotate(-90 137.41 427.6)">CTG-1180</text>
<line x1="41.5" y1="390.3" x2="148.7" y2="390.3" stroke="#231f20" stroke-width="0.9"/>
<line x1="41.5" y1="356" x2="41.5" y2="424.2" stroke="#231f20" stroke-width="0.9"/>
<line x1="41.5" y1="424.2" x2="148.7" y2="424.2" stroke="#231f20" stroke-width="0.9"/>
<line x1="39.3" y1="356.2" x2="41.5" y2="356.2" stroke="#231f20" stroke-width="0.9"/>
<text x="36" y="358.8" font-size="7.2" text-anchor="end" stroke="#231f20">100</text>
<line x1="39.3" y1="373.25" x2="41.5" y2="373.25" stroke="#231f20" stroke-width="0.9"/>
<text x="36" y="375.85" font-size="7.2" text-anchor="end" stroke="#231f20">50</text>
<line x1="39.3" y1="390.3" x2="41.5" y2="390.3" stroke="#231f20" stroke-width="0.9"/>
<text x="36" y="392.9" font-size="7.2" text-anchor="end" stroke="#231f20">0</text>
<line x1="39.3" y1="407.35" x2="41.5" y2="407.35" stroke="#231f20" stroke-width="0.9"/>
<text x="36" y="409.95" font-size="7.2" text-anchor="end" stroke="#231f20">−50</text>
<line x1="39.3" y1="424.4" x2="41.5" y2="424.4" stroke="#231f20" stroke-width="0.9"/>
<text x="36" y="427" font-size="7.2" text-anchor="end" stroke="#231f20">−100</text>
<line x1="148.7" y1="380.07" x2="148.7" y2="424.2" stroke="#231f20" stroke-width="0.7"/>
<line x1="146.7" y1="380.07" x2="148.7" y2="380.07" stroke="#231f20" stroke-width="0.7"/>
<line x1="146.7" y1="400.53" x2="148.7" y2="400.53" stroke="#231f20" stroke-width="0.7"/>
<line x1="146.7" y1="417.58" x2="148.7" y2="417.58" stroke="#231f20" stroke-width="0.7"/>
<line x1="146.7" y1="424.4" x2="148.7" y2="424.4" stroke="#231f20" stroke-width="0.7"/>
<text x="150.9" y="392.2" font-size="6.9" stroke="#231f20">mSD</text>
<text x="150.9" y="410.2" font-size="6.9" stroke="#231f20">mPR</text>
<text x="150.9" y="421.6" font-size="6.9" stroke="#231f20">mCR</text>
<text x="68" y="353.3" font-size="7" text-anchor="middle" stroke="#231f20">GAC</text>
<text x="117.5" y="353.3" font-size="7" text-anchor="middle" stroke="#231f20">OVCA</text>
<rect x="116.3" y="363.8" width="6" height="3.8" fill="#4db85f"/>
<text x="125.7" y="367.9" font-size="7.2" font-style="italic" stroke="#231f20">KRAS<tspan font-size="5.04" dy="-3.02" font-style="normal" stroke-width="0.08">G12D</tspan></text>
<rect x="116.3" y="370.8" width="6" height="3.8" fill="#1f6b56"/>
<text x="125.7" y="374.9" font-size="7.2" font-style="italic" stroke="#231f20">KRAS<tspan font-size="5.04" dy="-3.02" font-style="normal" stroke-width="0.08">G12V</tspan></text>
<text x="344" y="339.6" font-size="10.6" font-weight="bold" stroke="#231f20" stroke-width="0.35">H</text>
<text x="450" y="336.2" font-size="7.6" text-anchor="middle" stroke="#231f20">NSCLC models</text>
<text x="406.6" y="349.2" font-size="7.1" font-style="italic" stroke="#231f20">KRAS<tspan font-size="5.6" dy="-3.2" font-style="normal">G12X</tspan></text>
<text x="464.2" y="349.2" font-size="7.1" font-style="italic" stroke="#231f20">KRAS<tspan font-size="5.6" dy="-3.2" font-style="normal">Other</tspan></text>
<line x1="403.8" y1="358.5" x2="441.2" y2="358.5" stroke="#231f20" stroke-width="1.1"/>
<line x1="462" y1="358.5" x2="501.2" y2="358.5" stroke="#231f20" stroke-width="1.1"/>
<text x="422.3" y="358" font-size="7.4" text-anchor="middle" stroke="#231f20">***</text>
<text x="481.4" y="358" font-size="7.4" text-anchor="middle" stroke="#231f20">**</text>
<text x="349.3" y="391.8" font-size="7.7" text-anchor="middle" stroke="#231f20" transform="rotate(-90 349.3 391.8)">Mean tumor volume</text>
<text x="359.2" y="391.8" font-size="7.7" text-anchor="middle" stroke="#231f20" transform="rotate(-90 359.2 391.8)">% Change from baseline</text>
<line x1="384.6" y1="360.1" x2="384.6" y2="426.7" stroke="#231f20" stroke-width="0.7"/>
<line x1="384.6" y1="426.7" x2="519" y2="426.7" stroke="#231f20" stroke-width="0.7"/>
<line x1="384.6" y1="421.6" x2="519" y2="421.6" stroke="#999" stroke-width="0.6" stroke-dasharray="0.8,1.1"/>
<line x1="382" y1="360.1" x2="384.6" y2="360.1" stroke="#231f20" stroke-width="0.9"/>
<text x="379.2" y="362.7" font-size="7.3" text-anchor="end" stroke="#231f20">2,500</text>
<line x1="382" y1="372.3" x2="384.6" y2="372.3" stroke="#231f20" stroke-width="0.9"/>
<text x="379.2" y="374.9" font-size="7.3" text-anchor="end" stroke="#231f20">2,000</text>
<line x1="382" y1="385" x2="384.6" y2="385" stroke="#231f20" stroke-width="0.9"/>
<text x="379.2" y="387.6" font-size="7.3" text-anchor="end" stroke="#231f20">1,500</text>
<line x1="382" y1="397.2" x2="384.6" y2="397.2" stroke="#231f20" stroke-width="0.9"/>
<text x="379.2" y="399.8" font-size="7.3" text-anchor="end" stroke="#231f20">1,000</text>
<line x1="382" y1="409.2" x2="384.6" y2="409.2" stroke="#231f20" stroke-width="0.9"/>
<text x="379.2" y="411.8" font-size="7.3" text-anchor="end" stroke="#231f20">500</text>
<line x1="382" y1="424.4" x2="384.6" y2="424.4" stroke="#231f20" stroke-width="0.9"/>
<text x="379.2" y="427" font-size="7.3" text-anchor="end" stroke="#231f20">−100</text>
<line x1="406" y1="426.7" x2="406" y2="428.8" stroke="#231f20" stroke-width="0.7"/>
<text x="406" y="436" font-size="6.8" text-anchor="middle" stroke="#231f20">Control</text>
<line x1="435.6" y1="426.7" x2="435.6" y2="428.8" stroke="#231f20" stroke-width="0.7"/>
<text x="435.6" y="436" font-size="6.8" text-anchor="middle" stroke="#231f20">RMC-6236</text>
<line x1="466.5" y1="426.7" x2="466.5" y2="428.8" stroke="#231f20" stroke-width="0.7"/>
<text x="466.5" y="436" font-size="6.8" text-anchor="middle" stroke="#231f20">Control</text>
<line x1="497" y1="426.7" x2="497" y2="428.8" stroke="#231f20" stroke-width="0.7"/>
<text x="497" y="436" font-size="6.8" text-anchor="middle" stroke="#231f20">RMC-6236</text>
<line x1="405.9" y1="366.9" x2="405.9" y2="395.1" stroke="#262626" stroke-width="0.85"/>
<line x1="405.9" y1="413.2" x2="405.9" y2="416.1" stroke="#262626" stroke-width="0.85"/>
<line x1="401.65" y1="366.9" x2="410.15" y2="366.9" stroke="#262626" stroke-width="0.85"/>
<line x1="401.65" y1="416.1" x2="410.15" y2="416.1" stroke="#262626" stroke-width="0.85"/>
<rect x="395.7" y="395.1" width="20.4" height="18.1" fill="none" stroke="#262626" stroke-width="0.85"/>
<line x1="395.7" y1="409" x2="416.1" y2="409" stroke="#262626" stroke-width="0.85"/>
<line x1="435.6" y1="412.6" x2="435.6" y2="420.4" stroke="#262626" stroke-width="0.85"/>
<line x1="435.6" y1="424" x2="435.6" y2="424" stroke="#262626" stroke-width="0.85"/>
<line x1="430.85" y1="412.6" x2="440.35" y2="412.6" stroke="#262626" stroke-width="0.85"/>
<line x1="430.85" y1="424" x2="440.35" y2="424" stroke="#262626" stroke-width="0.85"/>
<rect x="425.9" y="420.4" width="19.4" height="3.6" fill="none" stroke="#262626" stroke-width="0.85"/>
<line x1="425.9" y1="422.6" x2="445.3" y2="422.6" stroke="#262626" stroke-width="0.85"/>
<line x1="466.4" y1="379.4" x2="466.4" y2="388.2" stroke="#262626" stroke-width="0.85"/>
<line x1="466.4" y1="403.6" x2="466.4" y2="408.4" stroke="#262626" stroke-width="0.85"/>
<line x1="461.65" y1="379.4" x2="471.15" y2="379.4" stroke="#262626" stroke-width="0.85"/>
<line x1="461.65" y1="408.4" x2="471.15" y2="408.4" stroke="#262626" stroke-width="0.85"/>
<rect x="456.7" y="388.2" width="19.4" height="15.4" fill="none" stroke="#262626" stroke-width="0.85"/>
<line x1="456.7" y1="394.6" x2="476.1" y2="394.6" stroke="#262626" stroke-width="0.85"/>
<line x1="497.25" y1="404.3" x2="497.25" y2="408.9" stroke="#262626" stroke-width="0.85"/>
<line x1="497.25" y1="421.4" x2="497.25" y2="421.4" stroke="#262626" stroke-width="0.85"/>
<line x1="492.5" y1="404.3" x2="502" y2="404.3" stroke="#262626" stroke-width="0.85"/>
<line x1="492.5" y1="421.4" x2="502" y2="421.4" stroke="#262626" stroke-width="0.85"/>
<rect x="487.5" y="408.9" width="19.5" height="12.5" fill="none" stroke="#262626" stroke-width="0.85"/>
<line x1="487.5" y1="419" x2="507" y2="419" stroke="#262626" stroke-width="0.85"/>
<circle cx="404" cy="384" r="0.95" fill="#3fb552"/>
<circle cx="408" cy="386" r="0.95" fill="#3fb552"/>
<circle cx="402" cy="388" r="0.95" fill="#3fb552"/>
<circle cx="405" cy="390" r="0.95" fill="#3fb552"/>
<circle cx="410" cy="388" r="0.95" fill="#3fb552"/>
<circle cx="403" cy="392" r="0.95" fill="#3fb552"/>
<circle cx="407" cy="393" r="0.95" fill="#3fb552"/>
<circle cx="404" cy="396" r="0.95" fill="#3fb552"/>
<circle cx="409" cy="397" r="0.95" fill="#3fb552"/>
<circle cx="406" cy="400" r="0.95" fill="#3fb552"/>
<circle cx="402" cy="402" r="0.95" fill="#3fb552"/>
<circle cx="410" cy="404" r="0.95" fill="#3fb552"/>
<circle cx="404" cy="406" r="0.95" fill="#3fb552"/>
<circle cx="408" cy="406" r="0.95" fill="#3fb552"/>
<circle cx="401" cy="408" r="0.95" fill="#3fb552"/>
<circle cx="405" cy="409" r="0.95" fill="#3fb552"/>
<circle cx="410" cy="409" r="0.95" fill="#3fb552"/>
<circle cx="399" cy="410" r="0.95" fill="#3fb552"/>
<circle cx="403" cy="411" r="0.95" fill="#3fb552"/>
<circle cx="407" cy="411" r="0.95" fill="#3fb552"/>
<circle cx="412" cy="411" r="0.95" fill="#3fb552"/>
<circle cx="400" cy="412" r="0.95" fill="#3fb552"/>
<circle cx="405" cy="413" r="0.95" fill="#3fb552"/>
<circle cx="409" cy="413" r="0.95" fill="#3fb552"/>
<circle cx="413" cy="413" r="0.95" fill="#3fb552"/>
<circle cx="398" cy="414" r="0.95" fill="#3fb552"/>
<circle cx="402" cy="414" r="0.95" fill="#3fb552"/>
<circle cx="406" cy="414" r="0.95" fill="#3fb552"/>
<circle cx="410" cy="414" r="0.95" fill="#3fb552"/>
<circle cx="404" cy="415" r="0.95" fill="#3fb552"/>
<circle cx="435.6" cy="413" r="0.95" fill="#3fb552"/>
<circle cx="435.6" cy="416" r="0.95" fill="#3fb552"/>
<circle cx="432" cy="420" r="0.95" fill="#3fb552"/>
<circle cx="436" cy="420" r="0.95" fill="#3fb552"/>
<circle cx="440" cy="420" r="0.95" fill="#3fb552"/>
<circle cx="429" cy="421" r="0.95" fill="#3fb552"/>
<circle cx="433" cy="421.5" r="0.95" fill="#3fb552"/>
<circle cx="437" cy="421.5" r="0.95" fill="#3fb552"/>
<circle cx="441" cy="421.5" r="0.95" fill="#3fb552"/>
<circle cx="444" cy="421.5" r="0.95" fill="#3fb552"/>
<circle cx="430" cy="423" r="0.95" fill="#3fb552"/>
<circle cx="434" cy="423" r="0.95" fill="#3fb552"/>
<circle cx="438" cy="423" r="0.95" fill="#3fb552"/>
<circle cx="442" cy="423" r="0.95" fill="#3fb552"/>
<circle cx="427" cy="423" r="0.95" fill="#3fb552"/>
<circle cx="436" cy="419" r="0.95" fill="#3fb552"/>
<circle cx="428" cy="422" r="0.95" fill="#3fb552"/>
<circle cx="431" cy="422.5" r="0.95" fill="#3fb552"/>
<circle cx="435" cy="422.5" r="0.95" fill="#3fb552"/>
<circle cx="439" cy="422.5" r="0.95" fill="#3fb552"/>
<circle cx="443" cy="423" r="0.95" fill="#3fb552"/>
<circle cx="445" cy="422" r="0.95" fill="#3fb552"/>
<circle cx="426.5" cy="421.5" r="0.95" fill="#3fb552"/>
<circle cx="432.5" cy="424" r="0.95" fill="#3fb552"/>
<circle cx="437" cy="424" r="0.95" fill="#3fb552"/>
<circle cx="441" cy="424" r="0.95" fill="#3fb552"/>
<circle cx="464.3" cy="391.3" r="1.0" fill="#3e5aa6"/>
<circle cx="467.6" cy="392.5" r="1.0" fill="#3e5aa6"/>
<circle cx="466.6" cy="397.6" r="1.0" fill="#3e5aa6"/>
<circle cx="471" cy="390" r="1.0" fill="#3e5aa6"/>
<circle cx="497.5" cy="410" r="1.0" fill="#3e5aa6"/>
<circle cx="496" cy="420" r="1.0" fill="#3e5aa6"/>
<circle cx="493" cy="420.5" r="1.0" fill="#3e5aa6"/>
<circle cx="500" cy="420.5" r="1.0" fill="#3e5aa6"/>
<circle cx="498" cy="415" r="1.0" fill="#3e5aa6"/>
</svg>
</body></html>
